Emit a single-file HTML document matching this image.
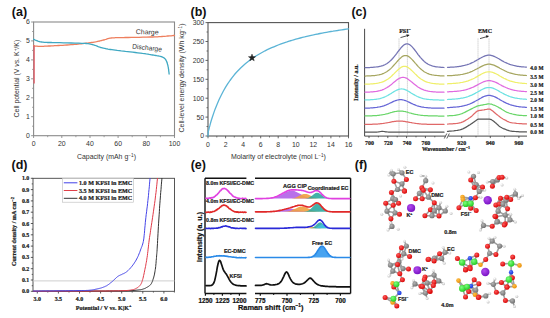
<!DOCTYPE html>
<html><head><meta charset="utf-8"><style>
html,body{margin:0;padding:0;background:#fff;width:550px;height:318px;overflow:hidden}
svg{display:block}
</style></head><body>
<svg width="550" height="318" viewBox="0 0 550 318">
<rect width="550" height="318" fill="#fff"/>
<text x="19.5" y="15.7" font-size="12.5" text-anchor="middle" font-weight="bold" font-family="Liberation Sans" fill="#111" >(a)</text>
<rect x="33.6" y="22.0" width="140.9" height="113.7" fill="none" stroke="#8a8a8a" stroke-width="1.1"/>
<line x1="31.1" y1="135.7" x2="33.6" y2="135.7" stroke="#8a8a8a" stroke-width="0.9" />
<text x="29.8" y="138.1" font-size="6.9" text-anchor="end" font-weight="normal" font-family="Liberation Sans" fill="#333" >0</text>
<line x1="32.1" y1="126.2" x2="33.6" y2="126.2" stroke="#8a8a8a" stroke-width="0.8" />
<line x1="31.1" y1="116.7" x2="33.6" y2="116.7" stroke="#8a8a8a" stroke-width="0.9" />
<text x="29.8" y="119.14999999999999" font-size="6.9" text-anchor="end" font-weight="normal" font-family="Liberation Sans" fill="#333" >1</text>
<line x1="32.1" y1="107.3" x2="33.6" y2="107.3" stroke="#8a8a8a" stroke-width="0.8" />
<line x1="31.1" y1="97.8" x2="33.6" y2="97.8" stroke="#8a8a8a" stroke-width="0.9" />
<text x="29.8" y="100.19999999999999" font-size="6.9" text-anchor="end" font-weight="normal" font-family="Liberation Sans" fill="#333" >2</text>
<line x1="32.1" y1="88.3" x2="33.6" y2="88.3" stroke="#8a8a8a" stroke-width="0.8" />
<line x1="31.1" y1="78.8" x2="33.6" y2="78.8" stroke="#8a8a8a" stroke-width="0.9" />
<text x="29.8" y="81.25" font-size="6.9" text-anchor="end" font-weight="normal" font-family="Liberation Sans" fill="#333" >3</text>
<line x1="32.1" y1="69.4" x2="33.6" y2="69.4" stroke="#8a8a8a" stroke-width="0.8" />
<line x1="31.1" y1="59.9" x2="33.6" y2="59.9" stroke="#8a8a8a" stroke-width="0.9" />
<text x="29.8" y="62.29999999999999" font-size="6.9" text-anchor="end" font-weight="normal" font-family="Liberation Sans" fill="#333" >4</text>
<line x1="32.1" y1="50.4" x2="33.6" y2="50.4" stroke="#8a8a8a" stroke-width="0.8" />
<line x1="31.1" y1="40.9" x2="33.6" y2="40.9" stroke="#8a8a8a" stroke-width="0.9" />
<text x="29.8" y="43.34999999999999" font-size="6.9" text-anchor="end" font-weight="normal" font-family="Liberation Sans" fill="#333" >5</text>
<line x1="32.1" y1="31.5" x2="33.6" y2="31.5" stroke="#8a8a8a" stroke-width="0.8" />
<line x1="31.1" y1="22.0" x2="33.6" y2="22.0" stroke="#8a8a8a" stroke-width="0.9" />
<text x="29.8" y="24.4" font-size="6.9" text-anchor="end" font-weight="normal" font-family="Liberation Sans" fill="#333" >6</text>
<line x1="33.6" y1="135.7" x2="33.6" y2="138.0" stroke="#8a8a8a" stroke-width="0.9" />
<text x="33.6" y="146.3" font-size="6.9" text-anchor="middle" font-weight="normal" font-family="Liberation Sans" fill="#333" >0</text>
<line x1="47.7" y1="135.7" x2="47.7" y2="137.2" stroke="#8a8a8a" stroke-width="0.8" />
<line x1="61.8" y1="135.7" x2="61.8" y2="138.0" stroke="#8a8a8a" stroke-width="0.9" />
<text x="61.78" y="146.3" font-size="6.9" text-anchor="middle" font-weight="normal" font-family="Liberation Sans" fill="#333" >20</text>
<line x1="75.9" y1="135.7" x2="75.9" y2="137.2" stroke="#8a8a8a" stroke-width="0.8" />
<line x1="90.0" y1="135.7" x2="90.0" y2="138.0" stroke="#8a8a8a" stroke-width="0.9" />
<text x="89.96000000000001" y="146.3" font-size="6.9" text-anchor="middle" font-weight="normal" font-family="Liberation Sans" fill="#333" >40</text>
<line x1="104.1" y1="135.7" x2="104.1" y2="137.2" stroke="#8a8a8a" stroke-width="0.8" />
<line x1="118.1" y1="135.7" x2="118.1" y2="138.0" stroke="#8a8a8a" stroke-width="0.9" />
<text x="118.14000000000001" y="146.3" font-size="6.9" text-anchor="middle" font-weight="normal" font-family="Liberation Sans" fill="#333" >60</text>
<line x1="132.2" y1="135.7" x2="132.2" y2="137.2" stroke="#8a8a8a" stroke-width="0.8" />
<line x1="146.3" y1="135.7" x2="146.3" y2="138.0" stroke="#8a8a8a" stroke-width="0.9" />
<text x="146.32" y="146.3" font-size="6.9" text-anchor="middle" font-weight="normal" font-family="Liberation Sans" fill="#333" >80</text>
<line x1="160.4" y1="135.7" x2="160.4" y2="137.2" stroke="#8a8a8a" stroke-width="0.8" />
<line x1="174.5" y1="135.7" x2="174.5" y2="138.0" stroke="#8a8a8a" stroke-width="0.9" />
<text x="174.5" y="146.3" font-size="6.9" text-anchor="middle" font-weight="normal" font-family="Liberation Sans" fill="#333" >100</text>
<text x="106.5" y="158.9" font-size="6.6" text-anchor="middle" font-weight="normal" font-family="Liberation Sans" fill="#333" textLength="59" lengthAdjust="spacingAndGlyphs" >Capacity (mAh g<tspan dy="-2.4" font-size="4.5">−1</tspan><tspan dy="2.4">)</tspan></text>
<text x="0" y="0" font-size="6.7" text-anchor="middle" font-weight="normal" font-family="Liberation Sans" fill="#333" textLength="77.6" lengthAdjust="spacingAndGlyphs" transform="translate(19.3,78.6) rotate(-90)">Cell potential (V <tspan font-style="italic">vs.</tspan> K<tspan dy="-2.4" font-size="4.5">+</tspan><tspan dy="2.4">/K)</tspan></text>
<path d="M33.6,45.5 33.7,45.5 33.8,45.6 34.0,45.7 34.1,45.8 34.3,45.9 34.5,45.9 34.8,46.0 35.0,46.1 35.3,46.1 35.5,46.1 35.8,46.2 36.1,46.2 36.5,46.2 36.9,46.2 37.3,46.2 37.8,46.3 38.4,46.3 38.9,46.3 39.5,46.3 40.2,46.3 40.9,46.3 41.7,46.3 42.6,46.3 43.6,46.3 44.7,46.2 45.9,46.2 47.2,46.1 48.5,46.0 50.0,46.0 51.5,45.9 53.1,45.8 54.7,45.7 56.5,45.6 58.5,45.5 60.6,45.4 62.7,45.3 64.8,45.1 67.0,45.0 69.0,44.9 70.9,44.7 72.8,44.6 74.6,44.4 76.3,44.3 78.0,44.1 79.7,43.9 81.3,43.8 82.9,43.6 84.5,43.4 86.0,43.2 87.5,43.1 88.9,42.9 90.3,42.7 91.7,42.5 93.0,42.3 94.2,42.1 95.5,41.9 96.6,41.7 97.8,41.4 98.8,41.2 99.9,41.0 100.9,40.7 101.8,40.5 102.8,40.2 103.6,40.0 104.4,39.8 105.2,39.5 105.9,39.3 106.5,39.1 107.1,38.8 107.8,38.6 108.4,38.5 109.1,38.3 109.8,38.2 110.5,38.1 111.2,38.0 111.9,37.9 112.7,37.9 113.5,37.8 114.4,37.8 115.3,37.7 116.3,37.7 117.2,37.7 118.1,37.6 119.1,37.6 120.2,37.6 121.6,37.6 123.4,37.6 125.5,37.5 128.2,37.5 131.5,37.4 135.1,37.4 139.0,37.3 142.9,37.2 146.6,37.1 149.9,37.0 152.7,37.0 154.8,36.9 156.5,36.8 157.8,36.8 158.9,36.7 159.9,36.6 160.9,36.6 162.0,36.5 163.2,36.4 164.7,36.3 166.3,36.2 167.9,36.0 169.5,35.9 171.1,35.8 172.5,35.6 173.6,35.5 174.5,35.5" stroke="#EE7F5E" stroke-width="1.3" fill="none" stroke-linejoin="round" stroke-linecap="round" />
<line x1="34.1" y1="83.6" x2="34.1" y2="45.5" stroke="#E2606A" stroke-width="1.4" />
<path d="M33.6,39.2 33.8,39.3 34.1,39.5 34.4,39.6 34.7,39.8 35.1,40.0 35.5,40.2 36.0,40.4 36.4,40.6 36.9,40.7 37.4,40.9 37.9,41.1 38.4,41.3 39.0,41.5 39.6,41.6 40.2,41.8 40.9,41.9 41.6,42.0 42.4,42.1 43.2,42.2 44.0,42.3 44.8,42.3 45.7,42.4 46.7,42.4 47.7,42.5 48.6,42.5 49.5,42.5 50.3,42.5 51.2,42.5 52.3,42.6 53.6,42.6 55.2,42.6 57.3,42.7 60.0,42.7 63.3,42.8 67.1,42.9 71.1,43.0 75.0,43.1 78.7,43.2 81.9,43.3 84.5,43.4 86.3,43.5 87.5,43.6 88.4,43.7 89.0,43.8 89.4,43.8 89.7,43.9 90.1,44.0 90.7,44.2 91.3,44.3 92.0,44.5 92.6,44.6 93.2,44.8 93.8,44.9 94.3,45.1 94.9,45.3 95.5,45.5 96.0,45.7 96.6,45.9 97.1,46.1 97.7,46.4 98.2,46.6 98.8,46.8 99.3,47.0 99.8,47.2 100.3,47.4 100.7,47.5 101.2,47.6 101.6,47.7 102.0,47.8 102.5,47.9 103.0,48.0 103.6,48.2 104.3,48.3 104.9,48.4 105.6,48.6 106.3,48.8 107.1,48.9 108.0,49.1 109.1,49.3 110.4,49.5 111.9,49.7 113.5,49.9 115.3,50.1 117.2,50.4 119.2,50.6 121.2,50.9 123.3,51.1 125.5,51.4 127.7,51.6 130.1,51.9 132.7,52.2 135.3,52.5 137.8,52.8 140.3,53.1 142.5,53.4 144.5,53.6 146.2,53.9 147.8,54.1 149.2,54.4 150.4,54.6 151.6,54.8 152.7,55.0 153.8,55.2 154.8,55.4 155.8,55.5 156.7,55.7 157.5,55.8 158.3,55.9 159.0,56.1 159.6,56.2 160.3,56.3 160.8,56.5 161.4,56.6 161.8,56.8 162.2,57.0 162.6,57.1 162.9,57.3 163.2,57.5 163.5,57.6 163.8,57.8 164.1,58.0 164.3,58.2 164.5,58.3 164.7,58.5 164.9,58.7 165.1,58.9 165.3,59.1 165.5,59.3 165.7,59.6 165.9,59.9 166.0,60.3 166.2,60.6 166.4,61.0 166.6,61.4 166.7,61.8 166.9,62.2 167.0,62.6 167.2,63.0 167.3,63.4 167.4,63.8 167.5,64.3 167.7,64.7 167.8,65.1 167.9,65.6 168.0,66.0 168.1,66.5 168.2,66.9 168.3,67.4 168.3,67.9 168.4,68.4 168.5,68.9 168.6,69.4 168.7,70.0 168.7,70.6 168.8,71.3 168.9,72.0 169.0,72.6 169.0,73.2 169.1,73.7 169.1,74.1" stroke="#3FA8C2" stroke-width="1.3" fill="none" stroke-linejoin="round" stroke-linecap="round" />
<text x="147.2" y="34.4" font-size="6.9" text-anchor="middle" font-weight="normal" font-family="Liberation Sans" fill="#333" textLength="22.7" lengthAdjust="spacingAndGlyphs" transform="rotate(1.5 147 33)">Charge</text>
<text x="147" y="50.0" font-size="6.8" text-anchor="middle" font-weight="normal" font-family="Liberation Sans" fill="#333" textLength="30" lengthAdjust="spacingAndGlyphs" transform="rotate(6 147 48.3)">Discharge</text>
<text x="198.5" y="15.7" font-size="12.5" text-anchor="middle" font-weight="bold" font-family="Liberation Sans" fill="#111" >(b)</text>
<rect x="208.0" y="22.6" width="140.5" height="113.4" fill="none" stroke="#555" stroke-width="1.1"/>
<line x1="205.5" y1="136.0" x2="208.0" y2="136.0" stroke="#555" stroke-width="0.9" />
<text x="204.2" y="138.4" font-size="6.9" text-anchor="end" font-weight="normal" font-family="Liberation Sans" fill="#333" >0</text>
<line x1="206.5" y1="126.5" x2="208.0" y2="126.5" stroke="#555" stroke-width="0.8" />
<line x1="205.5" y1="117.1" x2="208.0" y2="117.1" stroke="#555" stroke-width="0.9" />
<text x="204.2" y="119.5" font-size="6.9" text-anchor="end" font-weight="normal" font-family="Liberation Sans" fill="#333" >50</text>
<line x1="206.5" y1="107.7" x2="208.0" y2="107.7" stroke="#555" stroke-width="0.8" />
<line x1="205.5" y1="98.2" x2="208.0" y2="98.2" stroke="#555" stroke-width="0.9" />
<text x="204.2" y="100.60000000000001" font-size="6.9" text-anchor="end" font-weight="normal" font-family="Liberation Sans" fill="#333" >100</text>
<line x1="206.5" y1="88.8" x2="208.0" y2="88.8" stroke="#555" stroke-width="0.8" />
<line x1="205.5" y1="79.3" x2="208.0" y2="79.3" stroke="#555" stroke-width="0.9" />
<text x="204.2" y="81.7" font-size="6.9" text-anchor="end" font-weight="normal" font-family="Liberation Sans" fill="#333" >150</text>
<line x1="206.5" y1="69.8" x2="208.0" y2="69.8" stroke="#555" stroke-width="0.8" />
<line x1="205.5" y1="60.4" x2="208.0" y2="60.4" stroke="#555" stroke-width="0.9" />
<text x="204.2" y="62.800000000000004" font-size="6.9" text-anchor="end" font-weight="normal" font-family="Liberation Sans" fill="#333" >200</text>
<line x1="206.5" y1="51.0" x2="208.0" y2="51.0" stroke="#555" stroke-width="0.8" />
<line x1="205.5" y1="41.5" x2="208.0" y2="41.5" stroke="#555" stroke-width="0.9" />
<text x="204.2" y="43.9" font-size="6.9" text-anchor="end" font-weight="normal" font-family="Liberation Sans" fill="#333" >250</text>
<line x1="206.5" y1="32.0" x2="208.0" y2="32.0" stroke="#555" stroke-width="0.8" />
<line x1="205.5" y1="22.6" x2="208.0" y2="22.6" stroke="#555" stroke-width="0.9" />
<text x="204.2" y="24.999999999999993" font-size="6.9" text-anchor="end" font-weight="normal" font-family="Liberation Sans" fill="#333" >300</text>
<line x1="208.0" y1="136.0" x2="208.0" y2="138.3" stroke="#555" stroke-width="0.9" />
<text x="208.0" y="147.4" font-size="6.9" text-anchor="middle" font-weight="normal" font-family="Liberation Sans" fill="#333" >0</text>
<line x1="216.8" y1="136.0" x2="216.8" y2="137.5" stroke="#555" stroke-width="0.8" />
<line x1="225.6" y1="136.0" x2="225.6" y2="138.3" stroke="#555" stroke-width="0.9" />
<text x="225.5625" y="147.4" font-size="6.9" text-anchor="middle" font-weight="normal" font-family="Liberation Sans" fill="#333" >2</text>
<line x1="234.3" y1="136.0" x2="234.3" y2="137.5" stroke="#555" stroke-width="0.8" />
<line x1="243.1" y1="136.0" x2="243.1" y2="138.3" stroke="#555" stroke-width="0.9" />
<text x="243.125" y="147.4" font-size="6.9" text-anchor="middle" font-weight="normal" font-family="Liberation Sans" fill="#333" >4</text>
<line x1="251.9" y1="136.0" x2="251.9" y2="137.5" stroke="#555" stroke-width="0.8" />
<line x1="260.7" y1="136.0" x2="260.7" y2="138.3" stroke="#555" stroke-width="0.9" />
<text x="260.6875" y="147.4" font-size="6.9" text-anchor="middle" font-weight="normal" font-family="Liberation Sans" fill="#333" >6</text>
<line x1="269.5" y1="136.0" x2="269.5" y2="137.5" stroke="#555" stroke-width="0.8" />
<line x1="278.2" y1="136.0" x2="278.2" y2="138.3" stroke="#555" stroke-width="0.9" />
<text x="278.25" y="147.4" font-size="6.9" text-anchor="middle" font-weight="normal" font-family="Liberation Sans" fill="#333" >8</text>
<line x1="287.0" y1="136.0" x2="287.0" y2="137.5" stroke="#555" stroke-width="0.8" />
<line x1="295.8" y1="136.0" x2="295.8" y2="138.3" stroke="#555" stroke-width="0.9" />
<text x="295.8125" y="147.4" font-size="6.9" text-anchor="middle" font-weight="normal" font-family="Liberation Sans" fill="#333" >10</text>
<line x1="304.6" y1="136.0" x2="304.6" y2="137.5" stroke="#555" stroke-width="0.8" />
<line x1="313.4" y1="136.0" x2="313.4" y2="138.3" stroke="#555" stroke-width="0.9" />
<text x="313.375" y="147.4" font-size="6.9" text-anchor="middle" font-weight="normal" font-family="Liberation Sans" fill="#333" >12</text>
<line x1="322.2" y1="136.0" x2="322.2" y2="137.5" stroke="#555" stroke-width="0.8" />
<line x1="330.9" y1="136.0" x2="330.9" y2="138.3" stroke="#555" stroke-width="0.9" />
<text x="330.9375" y="147.4" font-size="6.9" text-anchor="middle" font-weight="normal" font-family="Liberation Sans" fill="#333" >14</text>
<line x1="339.7" y1="136.0" x2="339.7" y2="137.5" stroke="#555" stroke-width="0.8" />
<line x1="348.5" y1="136.0" x2="348.5" y2="138.3" stroke="#555" stroke-width="0.9" />
<text x="348.5" y="147.4" font-size="6.9" text-anchor="middle" font-weight="normal" font-family="Liberation Sans" fill="#333" >16</text>
<text x="278.4" y="159.3" font-size="6.8" text-anchor="middle" font-weight="normal" font-family="Liberation Sans" fill="#333" textLength="95" lengthAdjust="spacingAndGlyphs" >Molarity of electrolyte (mol L<tspan dy="-2.4" font-size="4.5">−1</tspan><tspan dy="2.4">)</tspan></text>
<text x="0" y="0" font-size="6.8" text-anchor="middle" font-weight="normal" font-family="Liberation Sans" fill="#333" textLength="109" lengthAdjust="spacingAndGlyphs" transform="translate(184.0,78) rotate(-90)">Cell-level energy density (Wh kg<tspan dy="-2.4" font-size="4.5">−1</tspan><tspan dy="2.4">)</tspan></text>
<path d="M208.0,136.0 208.2,132.7 208.4,131.2 208.9,129.3 209.3,127.5 209.8,125.9 210.6,122.8 211.5,119.8 212.4,117.0 213.7,113.1 215.0,109.4 216.8,104.9 219.0,99.8 221.2,95.2 223.4,91.0 225.6,87.2 227.8,83.7 230.0,80.5 232.1,77.6 234.3,74.8 236.5,72.3 238.7,70.0 240.9,67.8 243.1,65.7 245.3,63.8 247.5,62.0 249.7,60.3 251.9,58.7 254.1,57.2 256.3,55.8 258.5,54.5 260.7,53.2 262.9,52.0 265.1,50.8 267.3,49.7 269.5,48.7 271.7,47.7 273.9,46.8 276.1,45.9 278.2,45.0 280.4,44.2 282.6,43.4 284.8,42.6 287.0,41.9 289.2,41.1 291.4,40.5 293.6,39.8 295.8,39.2 298.0,38.6 300.2,38.0 302.4,37.4 304.6,36.9 306.8,36.3 309.0,35.8 311.2,35.3 313.4,34.9 315.6,34.4 317.8,34.0 320.0,33.5 322.2,33.1 324.4,32.7 326.5,32.3 328.7,31.9 330.9,31.5 333.1,31.2 335.3,30.8 337.5,30.5 339.7,30.1 341.9,29.8 344.1,29.5 346.3,29.2 348.5,28.9" stroke="#5BB4D6" stroke-width="1.3" fill="none" stroke-linejoin="round" stroke-linecap="round" />
<path d="M252.00,54.00 252.94,56.51 255.61,56.63 253.52,58.29 254.23,60.87 252.00,59.40 249.77,60.87 250.48,58.29 248.39,56.63 251.06,56.51Z" fill="#222" stroke="#222" stroke-width="0.4"/>
<text x="359.1" y="15.7" font-size="12.5" text-anchor="middle" font-weight="bold" font-family="Liberation Sans" fill="#111" >(c)</text>
<line x1="364.6" y1="28.8" x2="364.6" y2="136.1" stroke="#333" stroke-width="0.9" />
<line x1="364.6" y1="136.1" x2="445.5" y2="136.1" stroke="#333" stroke-width="0.9" />
<line x1="448.5" y1="136.1" x2="527.0" y2="136.1" stroke="#333" stroke-width="0.9" />
<line x1="444.3" y1="138.5" x2="446.8" y2="133.5" stroke="#333" stroke-width="0.8" />
<line x1="446.8" y1="138.5" x2="449.3" y2="133.5" stroke="#333" stroke-width="0.8" />
<line x1="369.0" y1="136.1" x2="369.0" y2="138.1" stroke="#333" stroke-width="0.8" />
<text x="369.5" y="145.3" font-size="5.9" text-anchor="middle" font-weight="bold" font-family="Liberation Serif" fill="#222" stroke="#222" stroke-width="0.22" >700</text>
<line x1="387.8" y1="136.1" x2="387.8" y2="138.1" stroke="#333" stroke-width="0.8" />
<text x="388.3" y="145.3" font-size="5.9" text-anchor="middle" font-weight="bold" font-family="Liberation Serif" fill="#222" stroke="#222" stroke-width="0.22" >720</text>
<line x1="406.6" y1="136.1" x2="406.6" y2="138.1" stroke="#333" stroke-width="0.8" />
<text x="407.1" y="145.3" font-size="5.9" text-anchor="middle" font-weight="bold" font-family="Liberation Serif" fill="#222" stroke="#222" stroke-width="0.22" >740</text>
<line x1="425.4" y1="136.1" x2="425.4" y2="138.1" stroke="#333" stroke-width="0.8" />
<text x="425.9" y="145.3" font-size="5.9" text-anchor="middle" font-weight="bold" font-family="Liberation Serif" fill="#222" stroke="#222" stroke-width="0.22" >760</text>
<line x1="378.4" y1="136.1" x2="378.4" y2="137.4" stroke="#333" stroke-width="0.7" />
<line x1="397.2" y1="136.1" x2="397.2" y2="137.4" stroke="#333" stroke-width="0.7" />
<line x1="416.0" y1="136.1" x2="416.0" y2="137.4" stroke="#333" stroke-width="0.7" />
<line x1="434.8" y1="136.1" x2="434.8" y2="137.4" stroke="#333" stroke-width="0.7" />
<line x1="461.7" y1="136.1" x2="461.7" y2="138.1" stroke="#333" stroke-width="0.8" />
<text x="461.7" y="145.3" font-size="5.9" text-anchor="middle" font-weight="bold" font-family="Liberation Serif" fill="#222" stroke="#222" stroke-width="0.22" >920</text>
<line x1="490.3" y1="136.1" x2="490.3" y2="138.1" stroke="#333" stroke-width="0.8" />
<text x="490.3" y="145.3" font-size="5.9" text-anchor="middle" font-weight="bold" font-family="Liberation Serif" fill="#222" stroke="#222" stroke-width="0.22" >940</text>
<line x1="518.9" y1="136.1" x2="518.9" y2="138.1" stroke="#333" stroke-width="0.8" />
<text x="518.9" y="145.3" font-size="5.9" text-anchor="middle" font-weight="bold" font-family="Liberation Serif" fill="#222" stroke="#222" stroke-width="0.22" >960</text>
<line x1="476.0" y1="136.1" x2="476.0" y2="137.4" stroke="#333" stroke-width="0.7" />
<line x1="504.6" y1="136.1" x2="504.6" y2="137.4" stroke="#333" stroke-width="0.7" />
<text x="445.9" y="151.4" font-size="5.7" text-anchor="middle" font-weight="bold" font-family="Liberation Serif" fill="#222" textLength="48" lengthAdjust="spacingAndGlyphs" stroke="#222" stroke-width="0.22" >Wavenumber / cm<tspan dy="-2.2" font-size="4">−1</tspan><tspan dy="2.2"></tspan></text>
<text x="0" y="0" font-size="6.2" text-anchor="middle" font-weight="bold" font-family="Liberation Serif" fill="#222" textLength="36.4" lengthAdjust="spacingAndGlyphs" stroke="#222" stroke-width="0.22" transform="translate(358.4,82.5) rotate(-90)">Intensity / a.u.</text>
<line x1="399.0" y1="38.5" x2="399.0" y2="136.1" stroke="#b4b4b4" stroke-width="0.75" stroke-dasharray="1.2,0.8"/>
<line x1="407.4" y1="38.5" x2="407.4" y2="136.1" stroke="#b4b4b4" stroke-width="0.75" stroke-dasharray="1.2,0.8"/>
<line x1="478.0" y1="38.5" x2="478.0" y2="136.1" stroke="#b4b4b4" stroke-width="0.75" stroke-dasharray="1.2,0.8"/>
<line x1="489.0" y1="38.5" x2="489.0" y2="136.1" stroke="#b4b4b4" stroke-width="0.75" stroke-dasharray="1.2,0.8"/>
<text x="405" y="33" font-size="6.0" text-anchor="middle" font-weight="bold" font-family="Liberation Serif" fill="#222" stroke="#222" stroke-width="0.22" >FSI<tspan dy="-2" font-size="4">−</tspan><tspan dy="2"></tspan></text>
<text x="485" y="33" font-size="6.0" text-anchor="middle" font-weight="bold" font-family="Liberation Serif" fill="#222" stroke="#222" stroke-width="0.22" >EMC</text>
<path d="M400.5,37.6 L408.5,35.3" stroke="#222" stroke-width="0.8"/><path d="M409.6,35 L406.3,34.3 L407.2,37.0Z" fill="#222"/>
<path d="M480,38.6 L488,36.3" stroke="#222" stroke-width="0.8"/><path d="M489.1,36 L485.8,35.3 L486.7,38.0Z" fill="#222"/>
<path d="M365.0,67.6 366.0,67.6 367.0,67.6 368.0,67.6 368.9,67.5 369.9,67.5 370.9,67.4 371.9,67.4 372.9,67.3 373.9,67.2 374.9,67.1 375.9,67.0 376.9,66.9 377.8,66.8 378.8,66.6 379.8,66.4 380.8,66.2 381.8,65.9 382.8,65.6 383.8,65.2 384.8,64.7 385.7,64.2 386.7,63.7 387.7,63.0 388.7,62.3 389.7,61.4 390.7,60.5 391.7,59.5 392.6,58.5 393.6,57.3 394.6,56.1 395.6,54.9 396.6,53.6 397.6,52.2 398.6,50.9 399.6,49.6 400.6,48.4 401.5,47.2 402.5,46.2 403.5,45.3 404.5,44.6 405.5,44.1 406.5,43.8 407.5,43.8 408.4,44.1 409.4,44.5 410.4,45.2 411.4,46.1 412.4,47.1 413.4,48.3 414.4,49.5 415.4,50.8 416.4,52.2 417.3,53.5 418.3,54.8 419.3,56.0 420.3,57.3 421.3,58.4 422.3,59.5 423.3,60.5 424.2,61.4 425.2,62.2 426.2,63.0 427.2,63.6 428.2,64.2 429.2,64.7 430.2,65.2 431.2,65.5 432.1,65.9 433.1,66.2 434.1,66.4 435.1,66.6 436.1,66.8 437.1,66.9 438.1,67.0 439.1,67.1 440.1,67.2 441.0,67.3 442.0,67.4 443.0,67.4 444.0,67.5" stroke="#7474B4" stroke-width="1.25" fill="none" stroke-linejoin="round" stroke-linecap="round" />
<path d="M447.5,67.3 448.5,67.3 449.5,67.3 450.5,67.2 451.4,67.2 452.4,67.1 453.4,67.0 454.4,67.0 455.4,66.9 456.4,66.8 457.4,66.7 458.4,66.6 459.4,66.4 460.3,66.3 461.3,66.1 462.3,65.9 463.3,65.7 464.3,65.5 465.3,65.2 466.3,65.0 467.2,64.7 468.2,64.3 469.2,64.0 470.2,63.6 471.2,63.1 472.2,62.7 473.2,62.2 474.2,61.7 475.1,61.1 476.1,60.6 477.1,60.0 478.1,59.5 479.1,58.9 480.1,58.3 481.1,57.8 482.1,57.2 483.1,56.7 484.0,56.3 485.0,55.9 486.0,55.6 487.0,55.4 488.0,55.2 489.0,55.2 490.0,55.2 490.9,55.4 491.9,55.6 492.9,55.9 493.9,56.3 494.9,56.7 495.9,57.2 496.9,57.7 497.9,58.3 498.9,58.8 499.8,59.4 500.8,60.0 501.8,60.6 502.8,61.1 503.8,61.7 504.8,62.2 505.8,62.7 506.8,63.1 507.7,63.5 508.7,63.9 509.7,64.3 510.7,64.6 511.7,65.0 512.7,65.2 513.7,65.5 514.6,65.7 515.6,65.9 516.6,66.1 517.6,66.3 518.6,66.4 519.6,66.6 520.6,66.7 521.6,66.8 522.5,66.9 523.5,66.9 524.5,67.0 525.5,67.1 526.5,67.1" stroke="#7474B4" stroke-width="1.25" fill="none" stroke-linejoin="round" stroke-linecap="round" />
<text x="530.3" y="70.3" font-size="6.0" text-anchor="start" font-weight="bold" font-family="Liberation Serif" fill="#222" textLength="13.2" lengthAdjust="spacingAndGlyphs" stroke="#222" stroke-width="0.22" >4.0 M</text>
<path d="M365.0,76.0 366.0,76.0 367.0,75.9 368.0,75.9 368.9,75.9 369.9,75.8 370.9,75.8 371.9,75.7 372.9,75.6 373.9,75.5 374.9,75.5 375.9,75.3 376.9,75.2 377.8,75.0 378.8,74.9 379.8,74.6 380.8,74.4 381.8,74.1 382.8,73.7 383.8,73.3 384.8,72.8 385.7,72.3 386.7,71.7 387.7,71.0 388.7,70.3 389.7,69.5 390.7,68.6 391.7,67.6 392.6,66.6 393.6,65.5 394.6,64.4 395.6,63.3 396.6,62.2 397.6,61.0 398.6,59.9 399.6,58.9 400.6,58.0 401.5,57.1 402.5,56.4 403.5,55.9 404.5,55.6 405.5,55.5 406.5,55.6 407.5,55.9 408.4,56.4 409.4,57.1 410.4,57.9 411.4,58.9 412.4,59.9 413.4,61.0 414.4,62.1 415.4,63.3 416.4,64.4 417.3,65.5 418.3,66.6 419.3,67.6 420.3,68.6 421.3,69.4 422.3,70.3 423.3,71.0 424.2,71.7 425.2,72.3 426.2,72.8 427.2,73.3 428.2,73.7 429.2,74.1 430.2,74.4 431.2,74.6 432.1,74.9 433.1,75.0 434.1,75.2 435.1,75.3 436.1,75.4 437.1,75.5 438.1,75.6 439.1,75.7 440.1,75.8 441.0,75.8 442.0,75.9 443.0,75.9 444.0,75.9" stroke="#A6A660" stroke-width="1.25" fill="none" stroke-linejoin="round" stroke-linecap="round" />
<path d="M447.5,75.7 448.5,75.6 449.5,75.6 450.5,75.6 451.4,75.5 452.4,75.5 453.4,75.4 454.4,75.3 455.4,75.2 456.4,75.2 457.4,75.1 458.4,74.9 459.4,74.8 460.3,74.7 461.3,74.5 462.3,74.4 463.3,74.2 464.3,73.9 465.3,73.7 466.3,73.4 467.2,73.2 468.2,72.8 469.2,72.5 470.2,72.1 471.2,71.7 472.2,71.3 473.2,70.8 474.2,70.3 475.1,69.8 476.1,69.3 477.1,68.8 478.1,68.2 479.1,67.7 480.1,67.1 481.1,66.6 482.1,66.1 483.1,65.7 484.0,65.2 485.0,64.9 486.0,64.6 487.0,64.4 488.0,64.2 489.0,64.2 490.0,64.2 490.9,64.4 491.9,64.6 492.9,64.9 493.9,65.2 494.9,65.6 495.9,66.1 496.9,66.6 497.9,67.1 498.9,67.6 499.8,68.2 500.8,68.7 501.8,69.3 502.8,69.8 503.8,70.3 504.8,70.8 505.8,71.2 506.8,71.7 507.7,72.1 508.7,72.5 509.7,72.8 510.7,73.1 511.7,73.4 512.7,73.7 513.7,73.9 514.6,74.2 515.6,74.3 516.6,74.5 517.6,74.7 518.6,74.8 519.6,74.9 520.6,75.1 521.6,75.1 522.5,75.2 523.5,75.3 524.5,75.4 525.5,75.4 526.5,75.5" stroke="#A6A660" stroke-width="1.25" fill="none" stroke-linejoin="round" stroke-linecap="round" />
<text x="530.3" y="78.6" font-size="6.0" text-anchor="start" font-weight="bold" font-family="Liberation Serif" fill="#222" textLength="13.2" lengthAdjust="spacingAndGlyphs" stroke="#222" stroke-width="0.22" >3.5 M</text>
<path d="M365.0,84.1 366.0,84.1 367.0,84.1 368.0,84.0 368.9,84.0 369.9,84.0 370.9,83.9 371.9,83.8 372.9,83.8 373.9,83.7 374.9,83.6 375.9,83.5 376.9,83.3 377.8,83.2 378.8,83.0 379.8,82.7 380.8,82.5 381.8,82.2 382.8,81.8 383.8,81.4 384.8,80.9 385.7,80.4 386.7,79.8 387.7,79.2 388.7,78.5 389.7,77.7 390.7,76.9 391.7,76.0 392.6,75.0 393.6,74.1 394.6,73.1 395.6,72.1 396.6,71.1 397.6,70.2 398.6,69.3 399.6,68.4 400.6,67.7 401.5,67.1 402.5,66.7 403.5,66.4 404.5,66.3 405.5,66.4 406.5,66.7 407.5,67.1 408.4,67.7 409.4,68.4 410.4,69.3 411.4,70.2 412.4,71.1 413.4,72.1 414.4,73.1 415.4,74.1 416.4,75.0 417.3,76.0 418.3,76.9 419.3,77.7 420.3,78.5 421.3,79.2 422.3,79.8 423.3,80.4 424.2,80.9 425.2,81.4 426.2,81.8 427.2,82.2 428.2,82.5 429.2,82.7 430.2,83.0 431.2,83.2 432.1,83.3 433.1,83.5 434.1,83.6 435.1,83.7 436.1,83.8 437.1,83.8 438.1,83.9 439.1,84.0 440.1,84.0 441.0,84.0 442.0,84.1 443.0,84.1 444.0,84.1" stroke="#EFEF6A" stroke-width="1.25" fill="none" stroke-linejoin="round" stroke-linecap="round" />
<path d="M447.5,83.8 448.5,83.7 449.5,83.7 450.5,83.6 451.4,83.6 452.4,83.5 453.4,83.4 454.4,83.4 455.4,83.3 456.4,83.2 457.4,83.1 458.4,83.0 459.4,82.9 460.3,82.7 461.3,82.5 462.3,82.4 463.3,82.2 464.3,81.9 465.3,81.7 466.3,81.4 467.2,81.1 468.2,80.8 469.2,80.4 470.2,80.0 471.2,79.6 472.2,79.2 473.2,78.7 474.2,78.2 475.1,77.7 476.1,77.1 477.1,76.6 478.1,76.0 479.1,75.4 480.1,74.9 481.1,74.3 482.1,73.8 483.1,73.3 484.0,72.9 485.0,72.5 486.0,72.2 487.0,72.0 488.0,71.8 489.0,71.8 490.0,71.8 490.9,72.0 491.9,72.2 492.9,72.5 493.9,72.9 494.9,73.3 495.9,73.8 496.9,74.3 497.9,74.8 498.9,75.4 499.8,76.0 500.8,76.5 501.8,77.1 502.8,77.6 503.8,78.2 504.8,78.7 505.8,79.1 506.8,79.6 507.7,80.0 508.7,80.4 509.7,80.8 510.7,81.1 511.7,81.4 512.7,81.7 513.7,81.9 514.6,82.2 515.6,82.4 516.6,82.5 517.6,82.7 518.6,82.8 519.6,83.0 520.6,83.1 521.6,83.2 522.5,83.3 523.5,83.4 524.5,83.4 525.5,83.5 526.5,83.6" stroke="#EFEF6A" stroke-width="1.25" fill="none" stroke-linejoin="round" stroke-linecap="round" />
<text x="530.3" y="86.69999999999999" font-size="6.0" text-anchor="start" font-weight="bold" font-family="Liberation Serif" fill="#222" textLength="13.2" lengthAdjust="spacingAndGlyphs" stroke="#222" stroke-width="0.22" >3.0 M</text>
<path d="M365.0,92.2 366.0,92.1 367.0,92.1 368.0,92.1 368.9,92.0 369.9,92.0 370.9,91.9 371.9,91.9 372.9,91.8 373.9,91.7 374.9,91.6 375.9,91.5 376.9,91.3 377.8,91.1 378.8,90.9 379.8,90.7 380.8,90.4 381.8,90.1 382.8,89.7 383.8,89.3 384.8,88.8 385.7,88.3 386.7,87.8 387.7,87.1 388.7,86.5 389.7,85.7 390.7,85.0 391.7,84.2 392.6,83.4 393.6,82.5 394.6,81.7 395.6,80.9 396.6,80.1 397.6,79.4 398.6,78.8 399.6,78.2 400.6,77.8 401.5,77.5 402.5,77.3 403.5,77.3 404.5,77.5 405.5,77.8 406.5,78.2 407.5,78.8 408.4,79.4 409.4,80.2 410.4,80.9 411.4,81.8 412.4,82.6 413.4,83.4 414.4,84.2 415.4,85.0 416.4,85.8 417.3,86.5 418.3,87.2 419.3,87.8 420.3,88.4 421.3,88.9 422.3,89.3 423.3,89.7 424.2,90.1 425.2,90.4 426.2,90.7 427.2,90.9 428.2,91.2 429.2,91.3 430.2,91.5 431.2,91.6 432.1,91.7 433.1,91.8 434.1,91.9 435.1,91.9 436.1,92.0 437.1,92.0 438.1,92.1 439.1,92.1 440.1,92.1 441.0,92.2 442.0,92.2 443.0,92.2 444.0,92.2" stroke="#E06AE0" stroke-width="1.25" fill="none" stroke-linejoin="round" stroke-linecap="round" />
<path d="M447.5,91.8 448.5,91.8 449.5,91.7 450.5,91.7 451.4,91.6 452.4,91.6 453.4,91.5 454.4,91.4 455.4,91.4 456.4,91.3 457.4,91.2 458.4,91.1 459.4,91.0 460.3,90.8 461.3,90.7 462.3,90.5 463.3,90.3 464.3,90.1 465.3,89.9 466.3,89.6 467.2,89.3 468.2,89.0 469.2,88.7 470.2,88.3 471.2,87.9 472.2,87.5 473.2,87.1 474.2,86.6 475.1,86.1 476.1,85.6 477.1,85.1 478.1,84.5 479.1,84.0 480.1,83.5 481.1,83.0 482.1,82.5 483.1,82.0 484.0,81.6 485.0,81.3 486.0,81.0 487.0,80.8 488.0,80.6 489.0,80.6 490.0,80.6 490.9,80.8 491.9,81.0 492.9,81.3 493.9,81.6 494.9,82.0 495.9,82.4 496.9,82.9 497.9,83.4 498.9,84.0 499.8,84.5 500.8,85.0 501.8,85.6 502.8,86.1 503.8,86.6 504.8,87.0 505.8,87.5 506.8,87.9 507.7,88.3 508.7,88.7 509.7,89.0 510.7,89.3 511.7,89.6 512.7,89.9 513.7,90.1 514.6,90.3 515.6,90.5 516.6,90.7 517.6,90.8 518.6,91.0 519.6,91.1 520.6,91.2 521.6,91.3 522.5,91.4 523.5,91.4 524.5,91.5 525.5,91.6 526.5,91.6" stroke="#E06AE0" stroke-width="1.25" fill="none" stroke-linejoin="round" stroke-linecap="round" />
<text x="530.3" y="94.69999999999999" font-size="6.0" text-anchor="start" font-weight="bold" font-family="Liberation Serif" fill="#222" textLength="13.2" lengthAdjust="spacingAndGlyphs" stroke="#222" stroke-width="0.22" >2.5 M</text>
<path d="M365.0,99.9 366.0,99.9 367.0,99.9 368.0,99.9 368.9,99.8 369.9,99.8 370.9,99.7 371.9,99.7 372.9,99.6 373.9,99.5 374.9,99.4 375.9,99.3 376.9,99.1 377.8,99.0 378.8,98.8 379.8,98.6 380.8,98.3 381.8,98.0 382.8,97.7 383.8,97.3 384.8,96.9 385.7,96.5 386.7,96.0 387.7,95.5 388.7,94.9 389.7,94.3 390.7,93.7 391.7,93.1 392.6,92.5 393.6,91.9 394.6,91.3 395.6,90.7 396.6,90.2 397.6,89.8 398.6,89.4 399.6,89.1 400.6,89.0 401.5,88.9 402.5,89.0 403.5,89.1 404.5,89.4 405.5,89.8 406.5,90.2 407.5,90.8 408.4,91.3 409.4,91.9 410.4,92.5 411.4,93.2 412.4,93.8 413.4,94.4 414.4,94.9 415.4,95.5 416.4,96.0 417.3,96.5 418.3,96.9 419.3,97.3 420.3,97.7 421.3,98.0 422.3,98.3 423.3,98.6 424.2,98.8 425.2,99.0 426.2,99.1 427.2,99.3 428.2,99.4 429.2,99.5 430.2,99.6 431.2,99.7 432.1,99.7 433.1,99.8 434.1,99.8 435.1,99.9 436.1,99.9 437.1,99.9 438.1,99.9 439.1,100.0 440.1,100.0 441.0,100.0 442.0,100.0 443.0,100.0 444.0,100.0" stroke="#6CE2E2" stroke-width="1.25" fill="none" stroke-linejoin="round" stroke-linecap="round" />
<path d="M447.5,99.5 448.5,99.4 449.5,99.4 450.5,99.3 451.4,99.3 452.4,99.2 453.4,99.1 454.4,99.1 455.4,99.0 456.4,98.9 457.4,98.8 458.4,98.7 459.4,98.6 460.3,98.4 461.3,98.2 462.3,98.1 463.3,97.9 464.3,97.6 465.3,97.4 466.3,97.1 467.2,96.8 468.2,96.5 469.2,96.1 470.2,95.7 471.2,95.3 472.2,94.9 473.2,94.4 474.2,93.9 475.1,93.4 476.1,92.8 477.1,92.3 478.1,91.7 479.1,91.1 480.1,90.6 481.1,90.0 482.1,89.5 483.1,89.0 484.0,88.6 485.0,88.2 486.0,87.9 487.0,87.7 488.0,87.5 489.0,87.5 490.0,87.5 490.9,87.7 491.9,87.9 492.9,88.2 493.9,88.6 494.9,89.0 495.9,89.5 496.9,90.0 497.9,90.5 498.9,91.1 499.8,91.7 500.8,92.2 501.8,92.8 502.8,93.3 503.8,93.9 504.8,94.4 505.8,94.8 506.8,95.3 507.7,95.7 508.7,96.1 509.7,96.5 510.7,96.8 511.7,97.1 512.7,97.4 513.7,97.6 514.6,97.9 515.6,98.1 516.6,98.2 517.6,98.4 518.6,98.5 519.6,98.7 520.6,98.8 521.6,98.9 522.5,99.0 523.5,99.1 524.5,99.1 525.5,99.2 526.5,99.3" stroke="#6CE2E2" stroke-width="1.25" fill="none" stroke-linejoin="round" stroke-linecap="round" />
<text x="530.3" y="102.39999999999999" font-size="6.0" text-anchor="start" font-weight="bold" font-family="Liberation Serif" fill="#222" textLength="13.2" lengthAdjust="spacingAndGlyphs" stroke="#222" stroke-width="0.22" >2.0 M</text>
<path d="M365.0,108.1 366.0,108.1 367.0,108.1 368.0,108.0 368.9,108.0 369.9,108.0 370.9,107.9 371.9,107.9 372.9,107.8 373.9,107.7 374.9,107.6 375.9,107.5 376.9,107.4 377.8,107.2 378.8,107.0 379.8,106.9 380.8,106.6 381.8,106.4 382.8,106.1 383.8,105.8 384.8,105.4 385.7,105.1 386.7,104.7 387.7,104.2 388.7,103.8 389.7,103.3 390.7,102.8 391.7,102.4 392.6,101.9 393.6,101.4 394.6,101.0 395.6,100.6 396.6,100.3 397.6,100.0 398.6,99.8 399.6,99.6 400.6,99.6 401.5,99.6 402.5,99.8 403.5,100.0 404.5,100.3 405.5,100.6 406.5,101.0 407.5,101.5 408.4,101.9 409.4,102.4 410.4,102.9 411.4,103.4 412.4,103.8 413.4,104.3 414.4,104.7 415.4,105.1 416.4,105.5 417.3,105.8 418.3,106.1 419.3,106.4 420.3,106.6 421.3,106.9 422.3,107.1 423.3,107.2 424.2,107.4 425.2,107.5 426.2,107.6 427.2,107.7 428.2,107.8 429.2,107.9 430.2,107.9 431.2,108.0 432.1,108.0 433.1,108.0 434.1,108.1 435.1,108.1 436.1,108.1 437.1,108.1 438.1,108.1 439.1,108.2 440.1,108.2 441.0,108.2 442.0,108.2 443.0,108.2 444.0,108.2" stroke="#6666D6" stroke-width="1.25" fill="none" stroke-linejoin="round" stroke-linecap="round" />
<path d="M447.5,107.5 448.5,107.5 449.5,107.5 450.5,107.4 451.4,107.4 452.4,107.3 453.4,107.2 454.4,107.2 455.4,107.1 456.4,107.0 457.4,106.9 458.4,106.8 459.4,106.6 460.3,106.5 461.3,106.3 462.3,106.1 463.3,105.9 464.3,105.7 465.3,105.4 466.3,105.2 467.2,104.9 468.2,104.5 469.2,104.2 470.2,103.8 471.2,103.3 472.2,102.9 473.2,102.4 474.2,101.9 475.1,101.3 476.1,100.8 477.1,100.2 478.1,99.7 479.1,99.1 480.1,98.5 481.1,98.0 482.1,97.4 483.1,96.9 484.0,96.5 485.0,96.1 486.0,95.8 487.0,95.6 488.0,95.4 489.0,95.4 490.0,95.4 490.9,95.6 491.9,95.8 492.9,96.1 493.9,96.5 494.9,96.9 495.9,97.4 496.9,97.9 497.9,98.5 498.9,99.0 499.8,99.6 500.8,100.2 501.8,100.8 502.8,101.3 503.8,101.9 504.8,102.4 505.8,102.9 506.8,103.3 507.7,103.7 508.7,104.1 509.7,104.5 510.7,104.8 511.7,105.2 512.7,105.4 513.7,105.7 514.6,105.9 515.6,106.1 516.6,106.3 517.6,106.5 518.6,106.6 519.6,106.8 520.6,106.9 521.6,107.0 522.5,107.1 523.5,107.1 524.5,107.2 525.5,107.3 526.5,107.3" stroke="#6666D6" stroke-width="1.25" fill="none" stroke-linejoin="round" stroke-linecap="round" />
<text x="530.3" y="110.5" font-size="6.0" text-anchor="start" font-weight="bold" font-family="Liberation Serif" fill="#222" textLength="13.2" lengthAdjust="spacingAndGlyphs" stroke="#222" stroke-width="0.22" >1.5 M</text>
<path d="M365.0,115.9 366.0,115.9 367.0,115.9 368.0,115.9 368.9,115.9 369.9,115.8 370.9,115.8 371.9,115.8 372.9,115.7 373.9,115.7 374.9,115.6 375.9,115.5 376.9,115.5 377.8,115.4 378.8,115.3 379.8,115.1 380.8,115.0 381.8,114.8 382.8,114.7 383.8,114.5 384.8,114.3 385.7,114.0 386.7,113.8 387.7,113.6 388.7,113.3 389.7,113.0 390.7,112.7 391.7,112.5 392.6,112.2 393.6,111.9 394.6,111.7 395.6,111.5 396.6,111.3 397.6,111.2 398.6,111.1 399.6,111.0 400.6,111.0 401.5,111.1 402.5,111.2 403.5,111.3 404.5,111.5 405.5,111.7 406.5,112.0 407.5,112.2 408.4,112.5 409.4,112.8 410.4,113.0 411.4,113.3 412.4,113.6 413.4,113.8 414.4,114.1 415.4,114.3 416.4,114.5 417.3,114.7 418.3,114.9 419.3,115.0 420.3,115.2 421.3,115.3 422.3,115.4 423.3,115.5 424.2,115.6 425.2,115.6 426.2,115.7 427.2,115.7 428.2,115.8 429.2,115.8 430.2,115.8 431.2,115.9 432.1,115.9 433.1,115.9 434.1,115.9 435.1,115.9 436.1,115.9 437.1,115.9 438.1,116.0 439.1,116.0 440.1,116.0 441.0,116.0 442.0,116.0 443.0,116.0 444.0,116.0" stroke="#6AD66A" stroke-width="1.25" fill="none" stroke-linejoin="round" stroke-linecap="round" />
<path d="M447.5,115.8 448.3,115.8 449.5,115.7 450.8,115.7 452.3,115.6 453.7,115.5 455.0,115.3 456.2,115.1 457.3,114.9 458.5,114.7 459.6,114.4 460.8,114.0 462.0,113.6 463.3,113.0 464.7,112.4 466.1,111.6 467.5,110.9 468.8,110.2 470.0,109.6 471.0,109.1 472.0,108.6 472.8,108.2 473.6,107.8 474.3,107.4 475.0,107.1 475.6,106.8 476.1,106.6 476.5,106.4 476.9,106.2 477.4,106.1 478.0,105.9 478.7,105.7 479.5,105.6 480.3,105.4 481.2,105.2 482.1,105.1 483.0,104.9 484.0,104.7 485.0,104.5 486.0,104.3 487.0,104.1 488.0,103.9 489.0,103.9 489.9,104.0 490.7,104.1 491.5,104.2 492.3,104.5 493.1,104.8 494.0,105.1 495.0,105.5 496.0,106.0 497.0,106.5 498.0,107.0 499.0,107.6 500.0,108.1 500.9,108.6 501.7,109.2 502.6,109.8 503.4,110.3 504.2,110.8 505.0,111.3 505.8,111.7 506.6,112.1 507.3,112.4 508.1,112.7 509.0,113.0 510.0,113.3 511.2,113.6 512.4,114.0 513.8,114.3 515.2,114.6 516.6,114.9 518.0,115.1 519.5,115.3 521.1,115.4 522.8,115.5 524.3,115.5 525.6,115.6 526.5,115.6" stroke="#6AD66A" stroke-width="1.25" fill="none" stroke-linejoin="round" stroke-linecap="round" />
<text x="530.3" y="118.19999999999999" font-size="6.0" text-anchor="start" font-weight="bold" font-family="Liberation Serif" fill="#222" textLength="13.2" lengthAdjust="spacingAndGlyphs" stroke="#222" stroke-width="0.22" >1.0 M</text>
<path d="M365.0,124.4 366.0,124.4 367.0,124.4 368.0,124.3 368.9,124.3 369.9,124.3 370.9,124.3 371.9,124.3 372.9,124.2 373.9,124.2 374.9,124.1 375.9,124.1 376.9,124.0 377.8,124.0 378.8,123.9 379.8,123.8 380.8,123.7 381.8,123.6 382.8,123.5 383.8,123.3 384.8,123.2 385.7,123.0 386.7,122.8 387.7,122.7 388.7,122.5 389.7,122.3 390.7,122.1 391.7,121.9 392.6,121.7 393.6,121.6 394.6,121.4 395.6,121.3 396.6,121.1 397.6,121.1 398.6,121.0 399.6,121.0 400.6,121.0 401.5,121.1 402.5,121.2 403.5,121.3 404.5,121.4 405.5,121.6 406.5,121.8 407.5,121.9 408.4,122.1 409.4,122.3 410.4,122.5 411.4,122.7 412.4,122.9 413.4,123.0 414.4,123.2 415.4,123.3 416.4,123.5 417.3,123.6 418.3,123.7 419.3,123.8 420.3,123.9 421.3,124.0 422.3,124.0 423.3,124.1 424.2,124.1 425.2,124.2 426.2,124.2 427.2,124.3 428.2,124.3 429.2,124.3 430.2,124.3 431.2,124.3 432.1,124.4 433.1,124.4 434.1,124.4 435.1,124.4 436.1,124.4 437.1,124.4 438.1,124.4 439.1,124.4 440.1,124.4 441.0,124.4 442.0,124.4 443.0,124.4 444.0,124.4" stroke="#E06868" stroke-width="1.25" fill="none" stroke-linejoin="round" stroke-linecap="round" />
<path d="M447.5,124.0 448.3,124.0 449.5,123.9 450.8,123.9 452.3,123.8 453.7,123.7 455.0,123.6 456.2,123.5 457.3,123.3 458.5,123.2 459.6,122.9 460.8,122.6 462.0,122.2 463.3,121.6 464.7,120.9 466.1,120.0 467.5,119.2 468.8,118.3 470.0,117.5 471.0,116.7 472.0,115.9 472.8,115.1 473.6,114.3 474.3,113.6 475.0,113.0 475.6,112.5 476.0,112.0 476.4,111.7 476.9,111.4 477.3,111.1 478.0,110.8 478.8,110.6 479.8,110.4 480.9,110.3 482.0,110.1 483.0,110.0 484.0,109.9 484.9,109.7 485.8,109.5 486.7,109.4 487.5,109.2 488.3,109.1 489.0,109.1 489.6,109.1 490.0,109.2 490.3,109.3 490.7,109.6 491.2,109.9 492.0,110.5 493.1,111.3 494.4,112.4 495.9,113.7 497.4,114.9 498.8,116.1 500.0,117.0 501.0,117.7 501.9,118.3 502.7,118.8 503.4,119.2 504.2,119.6 505.0,120.0 505.8,120.4 506.6,120.9 507.3,121.3 508.1,121.6 509.0,122.0 510.0,122.3 511.2,122.6 512.4,122.8 513.8,123.0 515.2,123.2 516.6,123.4 518.0,123.5 519.5,123.6 521.1,123.7 522.8,123.8 524.3,123.8 525.6,123.9 526.5,123.9" stroke="#E06868" stroke-width="1.25" fill="none" stroke-linejoin="round" stroke-linecap="round" />
<text x="530.3" y="126.6" font-size="6.0" text-anchor="start" font-weight="bold" font-family="Liberation Serif" fill="#222" textLength="13.2" lengthAdjust="spacingAndGlyphs" stroke="#222" stroke-width="0.22" >0.5 M</text>
<path d="M365.0,132.2 366.0,132.2 367.0,132.2 368.0,132.2 368.9,132.2 369.9,132.2 370.9,132.2 371.9,132.2 372.9,132.2 373.9,132.2 374.9,132.2 375.9,132.1 376.9,132.1 377.8,132.0 378.8,131.8 379.8,131.7 380.8,131.5 381.8,131.4 382.8,131.4 383.8,131.5 384.8,131.6 385.7,131.8 386.7,131.9 387.7,132.0 388.7,132.1 389.7,132.2 390.7,132.2 391.7,132.2 392.6,132.2 393.6,132.2 394.6,132.2 395.6,132.2 396.6,132.2 397.6,132.2 398.6,132.2 399.6,132.2 400.6,132.2 401.5,132.2 402.5,132.2 403.5,132.2 404.5,132.2 405.5,132.2 406.5,132.2 407.5,132.2 408.4,132.2 409.4,132.2 410.4,132.2 411.4,132.2 412.4,132.2 413.4,132.2 414.4,132.2 415.4,132.2 416.4,132.2 417.3,132.2 418.3,132.2 419.3,132.2 420.3,132.2 421.3,132.2 422.3,132.2 423.3,132.2 424.2,132.2 425.2,132.2 426.2,132.2 427.2,132.2 428.2,132.2 429.2,132.2 430.2,132.2 431.2,132.2 432.1,132.2 433.1,132.2 434.1,132.2 435.1,132.2 436.1,132.2 437.1,132.2 438.1,132.2 439.1,132.2 440.1,132.2 441.0,132.2 442.0,132.2 443.0,132.2 444.0,132.2" stroke="#585858" stroke-width="1.25" fill="none" stroke-linejoin="round" stroke-linecap="round" />
<path d="M447.5,131.4 448.3,131.3 449.5,131.2 450.8,131.1 452.3,131.0 453.7,130.9 455.0,130.7 456.2,130.5 457.3,130.4 458.5,130.2 459.6,130.0 460.8,129.6 462.0,129.2 463.3,128.6 464.7,127.9 466.1,127.1 467.5,126.2 468.8,125.4 470.0,124.7 471.0,124.0 472.0,123.4 472.8,122.8 473.6,122.2 474.3,121.7 475.0,121.2 475.6,120.8 476.1,120.4 476.6,120.0 477.1,119.7 477.6,119.4 478.3,119.2 479.1,119.1 480.0,119.0 481.0,119.0 482.0,119.0 483.0,119.1 484.0,119.1 485.0,119.1 485.9,119.1 486.9,119.0 487.8,119.1 488.7,119.1 489.5,119.2 490.2,119.3 490.7,119.4 491.2,119.6 491.6,119.8 492.2,120.2 493.0,120.7 494.0,121.5 495.1,122.5 496.4,123.6 497.7,124.8 498.9,125.9 500.0,126.7 500.9,127.3 501.8,127.8 502.6,128.2 503.4,128.6 504.2,128.9 505.0,129.2 505.8,129.5 506.6,129.9 507.3,130.2 508.1,130.4 509.0,130.7 510.0,130.9 511.2,131.1 512.4,131.3 513.8,131.4 515.2,131.5 516.6,131.6 518.0,131.7 519.5,131.8 521.1,131.8 522.8,131.8 524.3,131.9 525.6,131.9 526.5,131.9" stroke="#585858" stroke-width="1.25" fill="none" stroke-linejoin="round" stroke-linecap="round" />
<text x="530.3" y="134.29999999999998" font-size="6.0" text-anchor="start" font-weight="bold" font-family="Liberation Serif" fill="#222" textLength="13.2" lengthAdjust="spacingAndGlyphs" stroke="#222" stroke-width="0.22" >0.0 M</text>
<text x="19.5" y="168.9" font-size="12.5" text-anchor="middle" font-weight="bold" font-family="Liberation Sans" fill="#111" >(d)</text>
<rect x="33.0" y="178.3" width="141.5" height="113.0" fill="none" stroke="#444" stroke-width="0.9"/>
<line x1="30.8" y1="291.3" x2="33.0" y2="291.3" stroke="#333" stroke-width="0.8" />
<text x="29.3" y="293.3" font-size="5.9" text-anchor="end" font-weight="bold" font-family="Liberation Serif" fill="#222" stroke="#222" stroke-width="0.22" >0.0</text>
<line x1="31.7" y1="285.7" x2="33.0" y2="285.7" stroke="#333" stroke-width="0.7" />
<line x1="30.8" y1="280.0" x2="33.0" y2="280.0" stroke="#333" stroke-width="0.8" />
<text x="29.3" y="282.0" font-size="5.9" text-anchor="end" font-weight="bold" font-family="Liberation Serif" fill="#222" stroke="#222" stroke-width="0.22" >0.1</text>
<line x1="31.7" y1="274.4" x2="33.0" y2="274.4" stroke="#333" stroke-width="0.7" />
<line x1="30.8" y1="268.7" x2="33.0" y2="268.7" stroke="#333" stroke-width="0.8" />
<text x="29.3" y="270.7" font-size="5.9" text-anchor="end" font-weight="bold" font-family="Liberation Serif" fill="#222" stroke="#222" stroke-width="0.22" >0.2</text>
<line x1="31.7" y1="263.1" x2="33.0" y2="263.1" stroke="#333" stroke-width="0.7" />
<line x1="30.8" y1="257.4" x2="33.0" y2="257.4" stroke="#333" stroke-width="0.8" />
<text x="29.3" y="259.40000000000003" font-size="5.9" text-anchor="end" font-weight="bold" font-family="Liberation Serif" fill="#222" stroke="#222" stroke-width="0.22" >0.3</text>
<line x1="31.7" y1="251.8" x2="33.0" y2="251.8" stroke="#333" stroke-width="0.7" />
<line x1="30.8" y1="246.1" x2="33.0" y2="246.1" stroke="#333" stroke-width="0.8" />
<text x="29.3" y="248.10000000000002" font-size="5.9" text-anchor="end" font-weight="bold" font-family="Liberation Serif" fill="#222" stroke="#222" stroke-width="0.22" >0.4</text>
<line x1="31.7" y1="240.5" x2="33.0" y2="240.5" stroke="#333" stroke-width="0.7" />
<line x1="30.8" y1="234.8" x2="33.0" y2="234.8" stroke="#333" stroke-width="0.8" />
<text x="29.3" y="236.8" font-size="5.9" text-anchor="end" font-weight="bold" font-family="Liberation Serif" fill="#222" stroke="#222" stroke-width="0.22" >0.5</text>
<line x1="31.7" y1="229.2" x2="33.0" y2="229.2" stroke="#333" stroke-width="0.7" />
<line x1="30.8" y1="223.5" x2="33.0" y2="223.5" stroke="#333" stroke-width="0.8" />
<text x="29.3" y="225.5" font-size="5.9" text-anchor="end" font-weight="bold" font-family="Liberation Serif" fill="#222" stroke="#222" stroke-width="0.22" >0.6</text>
<line x1="31.7" y1="217.9" x2="33.0" y2="217.9" stroke="#333" stroke-width="0.7" />
<line x1="30.8" y1="212.2" x2="33.0" y2="212.2" stroke="#333" stroke-width="0.8" />
<text x="29.3" y="214.20000000000002" font-size="5.9" text-anchor="end" font-weight="bold" font-family="Liberation Serif" fill="#222" stroke="#222" stroke-width="0.22" >0.7</text>
<line x1="31.7" y1="206.6" x2="33.0" y2="206.6" stroke="#333" stroke-width="0.7" />
<line x1="30.8" y1="200.9" x2="33.0" y2="200.9" stroke="#333" stroke-width="0.8" />
<text x="29.3" y="202.9" font-size="5.9" text-anchor="end" font-weight="bold" font-family="Liberation Serif" fill="#222" stroke="#222" stroke-width="0.22" >0.8</text>
<line x1="31.7" y1="195.2" x2="33.0" y2="195.2" stroke="#333" stroke-width="0.7" />
<line x1="30.8" y1="189.6" x2="33.0" y2="189.6" stroke="#333" stroke-width="0.8" />
<text x="29.3" y="191.60000000000002" font-size="5.9" text-anchor="end" font-weight="bold" font-family="Liberation Serif" fill="#222" stroke="#222" stroke-width="0.22" >0.9</text>
<line x1="31.7" y1="183.9" x2="33.0" y2="183.9" stroke="#333" stroke-width="0.7" />
<line x1="30.8" y1="178.3" x2="33.0" y2="178.3" stroke="#333" stroke-width="0.8" />
<text x="29.3" y="180.3" font-size="5.9" text-anchor="end" font-weight="bold" font-family="Liberation Serif" fill="#222" stroke="#222" stroke-width="0.22" >1.0</text>
<line x1="37.3" y1="291.3" x2="37.3" y2="293.5" stroke="#333" stroke-width="0.8" />
<text x="37.3" y="300.6" font-size="5.9" text-anchor="middle" font-weight="bold" font-family="Liberation Serif" fill="#222" stroke="#222" stroke-width="0.22" >3.0</text>
<line x1="47.8" y1="291.3" x2="47.8" y2="292.6" stroke="#333" stroke-width="0.7" />
<line x1="58.4" y1="291.3" x2="58.4" y2="293.5" stroke="#333" stroke-width="0.8" />
<text x="58.4" y="300.6" font-size="5.9" text-anchor="middle" font-weight="bold" font-family="Liberation Serif" fill="#222" stroke="#222" stroke-width="0.22" >3.5</text>
<line x1="69.0" y1="291.3" x2="69.0" y2="292.6" stroke="#333" stroke-width="0.7" />
<line x1="79.5" y1="291.3" x2="79.5" y2="293.5" stroke="#333" stroke-width="0.8" />
<text x="79.5" y="300.6" font-size="5.9" text-anchor="middle" font-weight="bold" font-family="Liberation Serif" fill="#222" stroke="#222" stroke-width="0.22" >4.0</text>
<line x1="90.0" y1="291.3" x2="90.0" y2="292.6" stroke="#333" stroke-width="0.7" />
<line x1="100.6" y1="291.3" x2="100.6" y2="293.5" stroke="#333" stroke-width="0.8" />
<text x="100.6" y="300.6" font-size="5.9" text-anchor="middle" font-weight="bold" font-family="Liberation Serif" fill="#222" stroke="#222" stroke-width="0.22" >4.5</text>
<line x1="111.2" y1="291.3" x2="111.2" y2="292.6" stroke="#333" stroke-width="0.7" />
<line x1="121.7" y1="291.3" x2="121.7" y2="293.5" stroke="#333" stroke-width="0.8" />
<text x="121.7" y="300.6" font-size="5.9" text-anchor="middle" font-weight="bold" font-family="Liberation Serif" fill="#222" stroke="#222" stroke-width="0.22" >5.0</text>
<line x1="132.2" y1="291.3" x2="132.2" y2="292.6" stroke="#333" stroke-width="0.7" />
<line x1="142.8" y1="291.3" x2="142.8" y2="293.5" stroke="#333" stroke-width="0.8" />
<text x="142.8" y="300.6" font-size="5.9" text-anchor="middle" font-weight="bold" font-family="Liberation Serif" fill="#222" stroke="#222" stroke-width="0.22" >5.5</text>
<line x1="153.4" y1="291.3" x2="153.4" y2="292.6" stroke="#333" stroke-width="0.7" />
<line x1="163.9" y1="291.3" x2="163.9" y2="293.5" stroke="#333" stroke-width="0.8" />
<text x="163.9" y="300.6" font-size="5.9" text-anchor="middle" font-weight="bold" font-family="Liberation Serif" fill="#222" stroke="#222" stroke-width="0.22" >6.0</text>
<line x1="174.4" y1="291.3" x2="174.4" y2="292.6" stroke="#333" stroke-width="0.7" />
<text x="103.5" y="309.5" font-size="5.8" text-anchor="middle" font-weight="bold" font-family="Liberation Serif" fill="#222" textLength="55.6" lengthAdjust="spacingAndGlyphs" stroke="#222" stroke-width="0.22" >Potential / V vs. K|K<tspan dy="-2.2" font-size="4">+</tspan><tspan dy="2.2"></tspan></text>
<text x="0" y="0" font-size="5.9" text-anchor="middle" font-weight="bold" font-family="Liberation Serif" fill="#222" textLength="68.8" lengthAdjust="spacingAndGlyphs" stroke="#222" stroke-width="0.22" transform="translate(15.8,231.6) rotate(-90)">Current density / mA cm<tspan dy="-2.3" font-size="4.2">−2</tspan><tspan dy="2.3"></tspan></text>
<line x1="33.0" y1="280.9" x2="174.5" y2="280.9" stroke="#c8c8c8" stroke-width="0.9" />
<rect x="62.4" y="178.4" width="71.1" height="23.8" fill="#fff" stroke="#bbb" stroke-width="0.6"/>
<line x1="63.8" y1="182.8" x2="77.4" y2="182.8" stroke="#4040E8" stroke-width="1.0" />
<text x="79" y="184.9" font-size="6.15" text-anchor="start" font-weight="bold" font-family="Liberation Serif" fill="#222" textLength="53.3" lengthAdjust="spacingAndGlyphs" stroke="#222" stroke-width="0.22" >1.0 M KFSI in EMC</text>
<line x1="63.8" y1="190.5" x2="77.4" y2="190.5" stroke="#E04048" stroke-width="1.0" />
<text x="79" y="192.6" font-size="6.15" text-anchor="start" font-weight="bold" font-family="Liberation Serif" fill="#222" textLength="53.3" lengthAdjust="spacingAndGlyphs" stroke="#222" stroke-width="0.22" >3.5 M KFSI in EMC</text>
<line x1="63.8" y1="198.3" x2="77.4" y2="198.3" stroke="#333" stroke-width="1.0" />
<text x="79" y="200.4" font-size="6.15" text-anchor="start" font-weight="bold" font-family="Liberation Serif" fill="#222" textLength="53.3" lengthAdjust="spacingAndGlyphs" stroke="#222" stroke-width="0.22" >4.0 M KFSI in EMC</text>
<path d="M33.5,291.3 38.9,291.3 46.4,291.2 55.4,291.2 65.2,291.2 75.2,291.1 84.7,291.1 93.2,291.0 100.0,291.0 105.2,291.0 109.5,290.9 113.1,290.9 116.0,290.9 118.5,290.9 120.8,290.9 122.9,290.8 125.0,290.8 127.0,290.8 128.6,290.7 130.0,290.7 131.1,290.6 132.1,290.5 133.0,290.5 134.0,290.4 135.0,290.3 136.1,290.2 137.1,290.1 138.0,290.0 138.9,289.9 139.8,289.8 140.7,289.7 141.5,289.5 142.3,289.3 143.1,289.1 143.8,288.8 144.5,288.6 145.1,288.3 145.8,288.0 146.4,287.6 146.9,287.3 147.5,287.0 148.0,286.7 148.5,286.4 149.0,286.1 149.4,285.8 149.8,285.4 150.2,285.1 150.6,284.6 151.0,284.1 151.4,283.5 151.7,282.9 152.0,282.2 152.4,281.4 152.7,280.6 152.9,279.8 153.2,278.9 153.5,278.0 153.8,277.1 154.0,276.1 154.3,275.1 154.5,274.1 154.7,273.0 154.9,271.9 155.1,270.7 155.3,269.4 155.5,268.0 155.7,266.6 155.8,265.1 156.0,263.5 156.1,261.9 156.2,260.4 156.4,258.8 156.5,257.3 156.6,255.9 156.7,254.8 156.8,253.6 156.9,252.5 157.0,251.3 157.1,249.8 157.2,248.1 157.3,246.0 157.5,243.4 157.6,240.4 157.8,237.2 158.0,233.7 158.2,230.1 158.4,226.6 158.6,223.2 158.8,220.0 159.0,217.0 159.2,214.2 159.4,211.4 159.5,208.6 159.7,205.9 159.9,203.2 160.1,200.6 160.3,198.0 160.5,195.3 160.7,192.5 161.0,189.6 161.2,186.8 161.4,184.2 161.6,181.9 161.8,179.9 161.9,178.4" stroke="#333" stroke-width="1.0" fill="none" stroke-linejoin="round" stroke-linecap="round" />
<path d="M33.5,291.2 38.9,291.2 46.4,291.2 55.4,291.1 65.2,291.1 75.2,291.1 84.7,291.1 93.2,291.0 100.0,291.0 105.2,291.0 109.6,290.9 113.2,290.9 116.2,290.8 118.8,290.8 121.0,290.7 123.0,290.7 125.0,290.6 126.8,290.5 128.1,290.4 129.1,290.3 129.8,290.2 130.4,290.1 130.9,290.0 131.4,289.9 132.0,289.8 132.6,289.7 133.1,289.6 133.5,289.5 133.9,289.4 134.2,289.3 134.6,289.2 135.0,289.0 135.4,288.8 135.9,288.5 136.5,288.2 137.0,287.9 137.6,287.6 138.2,287.2 138.7,286.7 139.2,286.3 139.7,285.8 140.1,285.3 140.5,284.8 140.8,284.3 141.1,283.8 141.4,283.2 141.7,282.5 142.0,281.6 142.3,280.7 142.6,279.6 143.0,278.3 143.3,277.0 143.6,275.5 144.0,274.0 144.3,272.4 144.6,270.9 144.9,269.4 145.2,268.0 145.5,266.6 145.8,265.1 146.0,263.7 146.3,262.3 146.6,260.7 146.8,259.1 147.1,257.3 147.4,255.4 147.6,253.4 147.9,251.3 148.1,249.1 148.4,246.9 148.6,244.6 148.9,242.3 149.2,240.0 149.5,237.6 149.9,235.2 150.3,232.8 150.6,230.3 151.0,227.8 151.4,225.2 151.8,222.6 152.2,220.0 152.6,217.3 153.0,214.6 153.4,211.8 153.8,209.0 154.2,206.2 154.6,203.4 155.0,200.6 155.3,198.0 155.6,195.3 156.0,192.5 156.3,189.6 156.6,186.8 156.9,184.2 157.1,181.9 157.3,179.9 157.5,178.4" stroke="#E03A48" stroke-width="1.0" fill="none" stroke-linejoin="round" stroke-linecap="round" />
<path d="M33.5,291.0 35.6,291.0 38.4,291.0 41.8,290.9 45.5,290.9 49.4,290.9 53.2,290.9 56.8,290.8 60.0,290.8 62.9,290.8 65.7,290.8 68.4,290.7 71.0,290.7 73.5,290.7 75.9,290.7 78.0,290.6 80.0,290.6 81.7,290.6 83.2,290.5 84.5,290.5 85.7,290.5 86.8,290.4 87.8,290.4 88.9,290.3 90.0,290.2 91.2,290.1 92.4,289.9 93.6,289.7 94.7,289.5 95.8,289.2 96.9,289.0 97.8,288.8 98.7,288.6 99.4,288.4 100.1,288.3 100.6,288.1 101.1,288.0 101.6,287.8 102.0,287.7 102.5,287.5 103.0,287.3 103.5,287.1 104.1,286.9 104.6,286.7 105.1,286.5 105.6,286.2 106.2,286.0 106.7,285.7 107.3,285.3 107.9,284.9 108.5,284.5 109.2,284.0 109.8,283.5 110.5,282.9 111.2,282.4 111.8,281.9 112.5,281.3 113.2,280.7 113.8,280.1 114.5,279.4 115.2,278.8 115.8,278.1 116.5,277.5 117.1,277.0 117.7,276.5 118.3,276.1 118.8,275.8 119.4,275.5 119.9,275.2 120.4,275.0 120.9,274.8 121.5,274.6 122.0,274.3 122.5,274.0 123.1,273.8 123.6,273.6 124.1,273.3 124.6,273.1 125.2,272.8 125.7,272.4 126.3,272.0 126.9,271.5 127.5,271.0 128.2,270.4 128.8,269.7 129.5,269.1 130.2,268.4 130.8,267.6 131.5,266.8 132.2,266.0 132.8,265.1 133.5,264.2 134.2,263.2 134.8,262.2 135.5,261.2 136.1,260.1 136.7,259.0 137.3,257.8 137.9,256.6 138.5,255.3 139.0,253.9 139.6,252.6 140.1,251.2 140.5,249.9 141.0,248.7 141.4,247.6 141.8,246.7 142.1,245.8 142.4,245.0 142.7,244.0 143.0,242.9 143.3,241.6 143.6,240.0 143.9,238.1 144.1,235.8 144.4,233.4 144.6,230.8 144.8,228.1 145.1,225.4 145.3,222.7 145.6,220.0 145.9,217.3 146.2,214.6 146.6,211.8 146.9,209.0 147.3,206.2 147.6,203.4 147.9,200.6 148.2,198.0 148.5,195.3 148.7,192.5 149.0,189.6 149.3,186.8 149.5,184.2 149.7,181.9 149.9,179.9 150.0,178.4" stroke="#4545E8" stroke-width="1.0" fill="none" stroke-linejoin="round" stroke-linecap="round" />
<text x="198.3" y="168.9" font-size="12.5" text-anchor="middle" font-weight="bold" font-family="Liberation Sans" fill="#111" >(e)</text>
<line x1="205.0" y1="178.2" x2="246.4" y2="178.2" stroke="#111" stroke-width="1.4" />
<line x1="205.0" y1="178.2" x2="205.0" y2="293.5" stroke="#111" stroke-width="1.4" />
<line x1="205.0" y1="293.5" x2="246.4" y2="293.5" stroke="#111" stroke-width="1.4" />
<line x1="255.0" y1="178.2" x2="350.6" y2="178.2" stroke="#111" stroke-width="1.4" />
<line x1="350.6" y1="178.2" x2="350.6" y2="293.5" stroke="#111" stroke-width="1.4" />
<line x1="255.0" y1="293.5" x2="350.6" y2="293.5" stroke="#111" stroke-width="1.4" />
<line x1="205.4" y1="293.5" x2="205.4" y2="295.7" stroke="#111" stroke-width="1.2" />
<text x="205.4" y="302.7" font-size="6.3" text-anchor="middle" font-weight="bold" font-family="Liberation Sans" fill="#111" stroke="#111" stroke-width="0.22" >1250</text>
<line x1="222.4" y1="293.5" x2="222.4" y2="295.7" stroke="#111" stroke-width="1.2" />
<text x="222.4" y="302.7" font-size="6.3" text-anchor="middle" font-weight="bold" font-family="Liberation Sans" fill="#111" stroke="#111" stroke-width="0.22" >1225</text>
<line x1="239.4" y1="293.5" x2="239.4" y2="295.7" stroke="#111" stroke-width="1.2" />
<text x="239.4" y="302.7" font-size="6.3" text-anchor="middle" font-weight="bold" font-family="Liberation Sans" fill="#111" stroke="#111" stroke-width="0.22" >1200</text>
<line x1="213.9" y1="293.5" x2="213.9" y2="295.0" stroke="#111" stroke-width="1.0" />
<line x1="230.9" y1="293.5" x2="230.9" y2="295.0" stroke="#111" stroke-width="1.0" />
<line x1="260.3" y1="293.5" x2="260.3" y2="295.7" stroke="#111" stroke-width="1.2" />
<text x="260.3" y="302.7" font-size="6.3" text-anchor="middle" font-weight="bold" font-family="Liberation Sans" fill="#111" stroke="#111" stroke-width="0.22" >775</text>
<line x1="287.0" y1="293.5" x2="287.0" y2="295.7" stroke="#111" stroke-width="1.2" />
<text x="287.0" y="302.7" font-size="6.3" text-anchor="middle" font-weight="bold" font-family="Liberation Sans" fill="#111" stroke="#111" stroke-width="0.22" >750</text>
<line x1="313.7" y1="293.5" x2="313.7" y2="295.7" stroke="#111" stroke-width="1.2" />
<text x="313.7" y="302.7" font-size="6.3" text-anchor="middle" font-weight="bold" font-family="Liberation Sans" fill="#111" stroke="#111" stroke-width="0.22" >725</text>
<line x1="340.4" y1="293.5" x2="340.4" y2="295.7" stroke="#111" stroke-width="1.2" />
<text x="340.4" y="302.7" font-size="6.3" text-anchor="middle" font-weight="bold" font-family="Liberation Sans" fill="#111" stroke="#111" stroke-width="0.22" >700</text>
<line x1="273.7" y1="293.5" x2="273.7" y2="295.0" stroke="#111" stroke-width="1.0" />
<line x1="300.4" y1="293.5" x2="300.4" y2="295.0" stroke="#111" stroke-width="1.0" />
<line x1="327.1" y1="293.5" x2="327.1" y2="295.0" stroke="#111" stroke-width="1.0" />
<text x="270.7" y="309.6" font-size="7.9" text-anchor="middle" font-weight="bold" font-family="Liberation Sans" fill="#111" textLength="65.5" lengthAdjust="spacingAndGlyphs" stroke="#111" stroke-width="0.22" >Raman shift (cm<tspan dy="-3" font-size="5">−1</tspan><tspan dy="3">)</tspan></text>
<text x="0" y="0" font-size="7.1" text-anchor="middle" font-weight="bold" font-family="Liberation Sans" fill="#111" textLength="50" lengthAdjust="spacingAndGlyphs" stroke="#111" stroke-width="0.22" transform="translate(201.7,237.0) rotate(-90)">Intensity (a. u.)</text>
<path d="M206.0,198.2 206.7,198.4 207.3,198.3 208.0,198.4 208.7,198.3 209.3,198.0 210.0,197.9 210.7,198.2 211.3,197.8 212.0,197.6 212.7,197.8 213.3,197.3 214.0,197.1 214.7,196.5 215.3,196.1 216.0,195.3 216.7,195.0 217.3,194.4 218.0,193.5 218.7,192.8 219.3,192.0 220.0,191.0 220.7,190.6 221.3,189.9 222.0,189.2 222.7,188.6 223.3,188.7 224.0,188.4 224.7,188.5 225.3,188.8 226.0,189.1 226.7,189.7 227.3,190.0 228.0,190.9 228.7,191.5 229.3,192.5 230.0,193.2 230.7,193.6 231.3,194.3 232.0,195.0 232.7,196.0 233.3,196.2 234.0,196.8 234.7,197.0 235.3,197.4 236.0,197.6 236.7,197.8 237.3,198.0 238.0,198.1 238.7,198.4 239.3,198.3 240.0,198.5 240.7,198.5 241.3,198.6 242.0,198.5 242.7,198.2 243.3,198.6 244.0,198.6 244.7,198.6 245.3,198.4 246.0,198.5" stroke="#E040E0" stroke-width="1.65" fill="none" stroke-linejoin="round" stroke-linecap="round" />
<path d="M206.0,212.1 206.7,212.5 207.3,212.3 208.0,212.1 208.7,212.0 209.3,212.4 210.0,212.5 210.7,211.9 211.3,212.2 212.0,211.9 212.7,211.6 213.3,211.5 214.0,211.5 214.7,211.3 215.3,210.5 216.0,210.4 216.7,209.6 217.3,209.6 218.0,208.8 218.7,208.6 219.3,208.1 220.0,207.2 220.7,207.0 221.3,206.1 222.0,205.6 222.7,205.6 223.3,205.1 224.0,205.1 224.7,205.3 225.3,205.6 226.0,205.6 226.7,206.0 227.3,206.9 228.0,207.1 228.7,208.0 229.3,208.6 230.0,208.8 230.7,209.4 231.3,209.9 232.0,210.4 232.7,210.8 233.3,211.1 234.0,211.4 234.7,211.8 235.3,211.8 236.0,211.9 236.7,212.1 237.3,211.9 238.0,212.0 238.7,212.5 239.3,212.2 240.0,212.3 240.7,212.0 241.3,212.2 242.0,212.3 242.7,212.0 243.3,212.4 244.0,212.4 244.7,212.0 245.3,212.4 246.0,212.3" stroke="#E02828" stroke-width="1.65" fill="none" stroke-linejoin="round" stroke-linecap="round" />
<path d="M206.0,228.5 206.7,228.3 207.3,228.5 208.0,228.5 208.7,228.2 209.3,228.2 210.0,228.5 210.7,228.6 211.3,228.3 212.0,228.4 212.7,228.4 213.3,228.3 214.0,228.3 214.7,228.2 215.3,228.2 216.0,228.3 216.7,228.1 217.3,228.1 218.0,228.1 218.7,227.6 219.3,227.7 220.0,227.6 220.7,227.2 221.3,226.9 222.0,227.0 222.7,226.5 223.3,226.3 224.0,226.2 224.7,226.2 225.3,225.9 226.0,226.0 226.7,226.1 227.3,226.5 228.0,226.5 228.7,226.9 229.3,226.8 230.0,227.1 230.7,227.5 231.3,227.8 232.0,227.8 232.7,227.8 233.3,227.9 234.0,228.2 234.7,228.1 235.3,228.4 236.0,228.5 236.7,228.2 237.3,228.3 238.0,228.5 238.7,228.5 239.3,228.5 240.0,228.3 240.7,228.2 241.3,228.3 242.0,228.5 242.7,228.3 243.3,228.3 244.0,228.4 244.7,228.4 245.3,228.4 246.0,228.6" stroke="#2A2AD8" stroke-width="1.65" fill="none" stroke-linejoin="round" stroke-linecap="round" />
<path d="M206.0,257.4 206.7,257.2 207.3,257.5 208.0,257.4 208.7,257.3 209.3,257.1 210.0,257.2 210.7,257.1 211.3,256.8 212.0,256.8 212.7,256.7 213.3,256.6 214.0,256.4 214.7,256.3 215.3,256.2 216.0,256.1 216.7,255.9 217.3,256.0 218.0,255.9 218.7,256.0 219.3,255.7 220.0,255.9 220.7,255.9 221.3,255.9 222.0,255.9 222.7,256.0 223.3,255.9 224.0,255.8 224.7,256.1 225.3,256.0 226.0,256.1 226.7,256.3 227.3,256.3 228.0,256.4 228.7,256.7 229.3,256.7 230.0,256.7 230.7,256.8 231.3,257.0 232.0,257.0 232.7,257.2 233.3,257.1 234.0,257.2 234.7,257.3 235.3,257.5 236.0,257.4 236.7,257.6 237.3,257.7 238.0,257.7 238.7,257.7 239.3,257.5 240.0,257.7 240.7,257.8 241.3,257.6 242.0,257.7 242.7,257.7 243.3,257.8 244.0,257.7 244.7,257.8 245.3,257.9 246.0,257.6" stroke="#2A8AE8" stroke-width="1.65" fill="none" stroke-linejoin="round" stroke-linecap="round" />
<path d="M206.0,285.6 206.7,285.6 207.3,285.6 208.0,285.6 208.7,285.6 209.3,285.6 210.0,285.6 210.7,285.5 211.3,285.4 212.0,285.1 212.7,284.6 213.3,283.8 214.0,282.5 214.7,280.5 215.3,277.9 216.0,274.6 216.7,270.9 217.3,267.2 218.0,264.0 218.7,261.6 219.3,260.4 220.0,260.6 220.7,261.8 221.3,263.7 222.0,265.8 222.7,267.9 223.3,269.6 224.0,271.0 224.7,272.0 225.3,272.9 226.0,273.8 226.7,274.8 227.3,275.9 228.0,277.1 228.7,278.4 229.3,279.6 230.0,280.7 230.7,281.7 231.3,282.5 232.0,283.2 232.7,283.8 233.3,284.2 234.0,284.6 234.7,284.8 235.3,285.1 236.0,285.3 236.7,285.4 237.3,285.5 238.0,285.6 238.7,285.7 239.3,285.7 240.0,285.7 240.7,285.8 241.3,285.8 242.0,285.8 242.7,285.8 243.3,285.8 244.0,285.9 244.7,285.9 245.3,285.9 246.0,285.9" stroke="#111" stroke-width="1.7" fill="none" stroke-linejoin="round" stroke-linecap="round" />
<text x="206.1" y="184.5" font-size="5.4" text-anchor="start" font-weight="bold" font-family="Liberation Sans" fill="#222" textLength="48" lengthAdjust="spacingAndGlyphs" stroke="#222" stroke-width="0.22" >8.0m KFSI/EC-DMC</text>
<text x="206.1" y="203.3" font-size="5.4" text-anchor="start" font-weight="bold" font-family="Liberation Sans" fill="#222" textLength="48" lengthAdjust="spacingAndGlyphs" stroke="#222" stroke-width="0.22" >4.0m KFSI/EC-DMC</text>
<text x="206.1" y="221.8" font-size="5.4" text-anchor="start" font-weight="bold" font-family="Liberation Sans" fill="#222" textLength="48" lengthAdjust="spacingAndGlyphs" stroke="#222" stroke-width="0.22" >0.8m KFSI/EC-DMC</text>
<text x="234.8" y="253.2" font-size="5.4" text-anchor="middle" font-weight="bold" font-family="Liberation Sans" fill="#222" textLength="21.6" lengthAdjust="spacingAndGlyphs" stroke="#222" stroke-width="0.22" >EC-DMC</text>
<text x="235.6" y="278.2" font-size="5.4" text-anchor="middle" font-weight="bold" font-family="Liberation Sans" fill="#222" textLength="12.1" lengthAdjust="spacingAndGlyphs" stroke="#222" stroke-width="0.22" >KFSI</text>
<path d="M258,198.6 L258.0,198.6 L259.5,198.6 L261.0,198.6 L262.6,198.6 L264.1,198.6 L265.6,198.5 L267.1,198.5 L268.6,198.4 L270.1,198.3 L271.6,198.1 L273.2,197.8 L274.7,197.5 L276.2,197.0 L277.7,196.5 L279.2,195.8 L280.8,195.0 L282.3,194.2 L283.8,193.4 L285.3,192.5 L286.8,191.8 L288.3,191.2 L289.9,190.8 L291.4,190.7 L292.9,190.8 L294.4,191.1 L295.9,191.7 L297.4,192.4 L298.9,193.2 L300.5,194.1 L302.0,194.9 L303.5,195.7 L305.0,196.4 L306.5,196.9 L308.1,197.4 L309.6,197.8 L311.1,198.0 L312.6,198.2 L314.1,198.4 L315.6,198.5 L317.1,198.5 L318.7,198.6 L320.2,198.6 L321.7,198.6 L323.2,198.6 L324.7,198.6 L326.2,198.6 L327.8,198.6 L329.3,198.6 L330.8,198.6 L332.3,198.6 L333.8,198.6 L335.4,198.6 L336.9,198.6 L338.4,198.6 L339.9,198.6 L341.4,198.6 L342.9,198.6 L344.4,198.6 L346.0,198.6 L347.5,198.6 L349.0,198.6 L349,198.6Z" fill="#B060E8" fill-opacity="0.9" stroke="none"/>
<path d="M258,198.6 L258.0,198.6 L259.5,198.6 L261.0,198.6 L262.6,198.6 L264.1,198.6 L265.6,198.6 L267.1,198.6 L268.6,198.6 L270.1,198.6 L271.6,198.6 L273.2,198.6 L274.7,198.6 L276.2,198.6 L277.7,198.6 L279.2,198.6 L280.8,198.6 L282.3,198.6 L283.8,198.6 L285.3,198.6 L286.8,198.6 L288.3,198.6 L289.9,198.5 L291.4,198.4 L292.9,198.2 L294.4,197.9 L295.9,197.4 L297.4,196.8 L298.9,196.0 L300.5,195.3 L302.0,194.6 L303.5,194.1 L305.0,193.9 L306.5,194.1 L308.1,194.6 L309.6,195.3 L311.1,196.1 L312.6,196.8 L314.1,197.4 L315.6,197.9 L317.1,198.2 L318.7,198.4 L320.2,198.5 L321.7,198.6 L323.2,198.6 L324.7,198.6 L326.2,198.6 L327.8,198.6 L329.3,198.6 L330.8,198.6 L332.3,198.6 L333.8,198.6 L335.4,198.6 L336.9,198.6 L338.4,198.6 L339.9,198.6 L341.4,198.6 L342.9,198.6 L344.4,198.6 L346.0,198.6 L347.5,198.6 L349.0,198.6 L349,198.6Z" fill="#F0A040" fill-opacity="0.9" stroke="none"/>
<path d="M258,198.6 L258.0,198.6 L259.5,198.6 L261.0,198.6 L262.6,198.6 L264.1,198.6 L265.6,198.6 L267.1,198.6 L268.6,198.6 L270.1,198.6 L271.6,198.6 L273.2,198.6 L274.7,198.6 L276.2,198.6 L277.7,198.6 L279.2,198.6 L280.8,198.6 L282.3,198.6 L283.8,198.6 L285.3,198.6 L286.8,198.6 L288.3,198.6 L289.9,198.6 L291.4,198.6 L292.9,198.6 L294.4,198.6 L295.9,198.6 L297.4,198.6 L298.9,198.6 L300.5,198.6 L302.0,198.6 L303.5,198.5 L305.0,198.5 L306.5,198.3 L308.1,197.9 L309.6,197.2 L311.1,196.3 L312.6,195.2 L314.1,194.0 L315.6,193.1 L317.1,192.8 L318.7,193.1 L320.2,193.9 L321.7,195.1 L323.2,196.2 L324.7,197.2 L326.2,197.8 L327.8,198.2 L329.3,198.4 L330.8,198.5 L332.3,198.6 L333.8,198.6 L335.4,198.6 L336.9,198.6 L338.4,198.6 L339.9,198.6 L341.4,198.6 L342.9,198.6 L344.4,198.6 L346.0,198.6 L347.5,198.6 L349.0,198.6 L349,198.6Z" fill="#30A8A0" fill-opacity="0.9" stroke="none"/>
<path d="M258,211.8 L258.0,211.8 L259.5,211.8 L261.0,211.8 L262.6,211.8 L264.1,211.8 L265.6,211.8 L267.1,211.8 L268.6,211.7 L270.1,211.7 L271.6,211.6 L273.2,211.5 L274.7,211.3 L276.2,211.1 L277.7,210.9 L279.2,210.6 L280.8,210.3 L282.3,209.9 L283.8,209.6 L285.3,209.3 L286.8,209.0 L288.3,208.9 L289.9,208.8 L291.4,208.8 L292.9,209.0 L294.4,209.2 L295.9,209.5 L297.4,209.9 L298.9,210.2 L300.5,210.5 L302.0,210.8 L303.5,211.1 L305.0,211.3 L306.5,211.4 L308.1,211.6 L309.6,211.6 L311.1,211.7 L312.6,211.7 L314.1,211.8 L315.6,211.8 L317.1,211.8 L318.7,211.8 L320.2,211.8 L321.7,211.8 L323.2,211.8 L324.7,211.8 L326.2,211.8 L327.8,211.8 L329.3,211.8 L330.8,211.8 L332.3,211.8 L333.8,211.8 L335.4,211.8 L336.9,211.8 L338.4,211.8 L339.9,211.8 L341.4,211.8 L342.9,211.8 L344.4,211.8 L346.0,211.8 L347.5,211.8 L349.0,211.8 L349,211.8Z" fill="#B060E8" fill-opacity="0.9" stroke="none"/>
<path d="M258,211.8 L258.0,211.8 L259.5,211.8 L261.0,211.8 L262.6,211.8 L264.1,211.8 L265.6,211.8 L267.1,211.8 L268.6,211.8 L270.1,211.8 L271.6,211.8 L273.2,211.8 L274.7,211.8 L276.2,211.8 L277.7,211.8 L279.2,211.8 L280.8,211.8 L282.3,211.7 L283.8,211.7 L285.3,211.6 L286.8,211.5 L288.3,211.2 L289.9,210.9 L291.4,210.4 L292.9,209.8 L294.4,209.1 L295.9,208.4 L297.4,207.7 L298.9,207.1 L300.5,206.6 L302.0,206.5 L303.5,206.6 L305.0,207.0 L306.5,207.6 L308.1,208.4 L309.6,209.1 L311.1,209.8 L312.6,210.4 L314.1,210.9 L315.6,211.2 L317.1,211.4 L318.7,211.6 L320.2,211.7 L321.7,211.7 L323.2,211.8 L324.7,211.8 L326.2,211.8 L327.8,211.8 L329.3,211.8 L330.8,211.8 L332.3,211.8 L333.8,211.8 L335.4,211.8 L336.9,211.8 L338.4,211.8 L339.9,211.8 L341.4,211.8 L342.9,211.8 L344.4,211.8 L346.0,211.8 L347.5,211.8 L349.0,211.8 L349,211.8Z" fill="#F0A040" fill-opacity="0.9" stroke="none"/>
<path d="M258,211.8 L258.0,211.8 L259.5,211.8 L261.0,211.8 L262.6,211.8 L264.1,211.8 L265.6,211.8 L267.1,211.8 L268.6,211.8 L270.1,211.8 L271.6,211.8 L273.2,211.8 L274.7,211.8 L276.2,211.8 L277.7,211.8 L279.2,211.8 L280.8,211.8 L282.3,211.8 L283.8,211.8 L285.3,211.8 L286.8,211.8 L288.3,211.8 L289.9,211.8 L291.4,211.8 L292.9,211.8 L294.4,211.8 L295.9,211.8 L297.4,211.8 L298.9,211.8 L300.5,211.8 L302.0,211.8 L303.5,211.7 L305.0,211.6 L306.5,211.3 L308.1,210.8 L309.6,209.9 L311.1,208.6 L312.6,207.0 L314.1,205.4 L315.6,204.1 L317.1,203.6 L318.7,204.0 L320.2,205.1 L321.7,206.7 L323.2,208.3 L324.7,209.7 L326.2,210.7 L327.8,211.3 L329.3,211.6 L330.8,211.7 L332.3,211.8 L333.8,211.8 L335.4,211.8 L336.9,211.8 L338.4,211.8 L339.9,211.8 L341.4,211.8 L342.9,211.8 L344.4,211.8 L346.0,211.8 L347.5,211.8 L349.0,211.8 L349,211.8Z" fill="#30A8A0" fill-opacity="0.9" stroke="none"/>
<path d="M258,228.3 L258.0,228.3 L259.5,228.3 L261.0,228.3 L262.6,228.3 L264.1,228.3 L265.6,228.3 L267.1,228.3 L268.6,228.3 L270.1,228.3 L271.6,228.3 L273.2,228.3 L274.7,228.3 L276.2,228.3 L277.7,228.3 L279.2,228.3 L280.8,228.3 L282.3,228.3 L283.8,228.3 L285.3,228.3 L286.8,228.3 L288.3,228.3 L289.9,228.3 L291.4,228.3 L292.9,228.3 L294.4,228.3 L295.9,228.3 L297.4,228.3 L298.9,228.3 L300.5,228.3 L302.0,228.3 L303.5,228.2 L305.0,228.1 L306.5,227.9 L308.1,227.6 L309.6,227.3 L311.1,227.0 L312.6,226.8 L314.1,226.9 L315.6,227.1 L317.1,227.4 L318.7,227.8 L320.2,228.0 L321.7,228.2 L323.2,228.2 L324.7,228.3 L326.2,228.3 L327.8,228.3 L329.3,228.3 L330.8,228.3 L332.3,228.3 L333.8,228.3 L335.4,228.3 L336.9,228.3 L338.4,228.3 L339.9,228.3 L341.4,228.3 L342.9,228.3 L344.4,228.3 L346.0,228.3 L347.5,228.3 L349.0,228.3 L349,228.3Z" fill="#F0A040" fill-opacity="0.9" stroke="none"/>
<path d="M258,228.3 L258.0,228.3 L259.5,228.3 L261.0,228.3 L262.6,228.3 L264.1,228.3 L265.6,228.3 L267.1,228.3 L268.6,228.3 L270.1,228.3 L271.6,228.3 L273.2,228.3 L274.7,228.3 L276.2,228.3 L277.7,228.3 L279.2,228.3 L280.8,228.3 L282.3,228.3 L283.8,228.3 L285.3,228.3 L286.8,228.3 L288.3,228.3 L289.9,228.3 L291.4,228.3 L292.9,228.3 L294.4,228.3 L295.9,228.3 L297.4,228.3 L298.9,228.3 L300.5,228.3 L302.0,228.3 L303.5,228.3 L305.0,228.3 L306.5,228.3 L308.1,228.3 L309.6,228.2 L311.1,228.1 L312.6,227.7 L314.1,226.8 L315.6,225.5 L317.1,224.0 L318.7,222.7 L320.2,222.3 L321.7,223.0 L323.2,224.4 L324.7,225.9 L326.2,227.1 L327.8,227.8 L329.3,228.1 L330.8,228.2 L332.3,228.3 L333.8,228.3 L335.4,228.3 L336.9,228.3 L338.4,228.3 L339.9,228.3 L341.4,228.3 L342.9,228.3 L344.4,228.3 L346.0,228.3 L347.5,228.3 L349.0,228.3 L349,228.3Z" fill="#30A8A0" fill-opacity="0.9" stroke="none"/>
<path d="M258,228.3 L258.0,228.3 L259.5,228.3 L261.0,228.3 L262.6,228.3 L264.1,228.3 L265.6,228.3 L267.1,228.3 L268.6,228.3 L270.1,228.3 L271.6,228.3 L273.2,228.3 L274.7,228.3 L276.2,228.3 L277.7,228.3 L279.2,228.3 L280.8,228.3 L282.3,228.3 L283.8,228.3 L285.3,228.3 L286.8,228.3 L288.3,228.3 L289.9,228.3 L291.4,228.3 L292.9,228.3 L294.4,228.3 L295.9,228.3 L297.4,228.3 L298.9,228.3 L300.5,228.3 L302.0,228.3 L303.5,228.3 L305.0,228.3 L306.5,228.3 L308.1,228.3 L309.6,228.3 L311.1,228.3 L312.6,228.3 L314.1,228.2 L315.6,227.9 L317.1,227.2 L318.7,226.1 L320.2,225.0 L321.7,224.3 L323.2,224.6 L324.7,225.7 L326.2,226.8 L327.8,227.7 L329.3,228.1 L330.8,228.2 L332.3,228.3 L333.8,228.3 L335.4,228.3 L336.9,228.3 L338.4,228.3 L339.9,228.3 L341.4,228.3 L342.9,228.3 L344.4,228.3 L346.0,228.3 L347.5,228.3 L349.0,228.3 L349,228.3Z" fill="#40C0E0" fill-opacity="0.9" stroke="none"/>
<path d="M258,257.5 L258.0,257.5 L259.5,257.5 L261.0,257.5 L262.6,257.5 L264.1,257.5 L265.6,257.5 L267.1,257.5 L268.6,257.5 L270.1,257.5 L271.6,257.5 L273.2,257.5 L274.7,257.5 L276.2,257.5 L277.7,257.5 L279.2,257.5 L280.8,257.5 L282.3,257.5 L283.8,257.5 L285.3,257.5 L286.8,257.5 L288.3,257.5 L289.9,257.5 L291.4,257.5 L292.9,257.5 L294.4,257.5 L295.9,257.5 L297.4,257.5 L298.9,257.5 L300.5,257.5 L302.0,257.5 L303.5,257.5 L305.0,257.5 L306.5,257.5 L308.1,257.5 L309.6,257.4 L311.1,257.1 L312.6,256.6 L314.1,255.6 L315.6,253.9 L317.1,251.7 L318.7,249.3 L320.2,247.2 L321.7,246.2 L323.2,246.7 L324.7,248.4 L326.2,250.7 L327.8,253.1 L329.3,255.0 L330.8,256.2 L332.3,256.9 L333.8,257.3 L335.4,257.4 L336.9,257.5 L338.4,257.5 L339.9,257.5 L341.4,257.5 L342.9,257.5 L344.4,257.5 L346.0,257.5 L347.5,257.5 L349.0,257.5 L349,257.5Z" fill="#3399EE" fill-opacity="0.9" stroke="none"/>
<path d="M255.5,198.6 256.4,198.6 257.4,198.6 258.3,198.6 259.3,198.6 260.2,198.6 261.2,198.6 262.1,198.6 263.0,198.5 264.0,198.5 264.9,198.5 265.9,198.5 266.8,198.4 267.8,198.3 268.7,198.3 269.6,198.2 270.6,198.0 271.5,197.9 272.5,197.7 273.4,197.5 274.4,197.2 275.3,196.9 276.2,196.6 277.2,196.2 278.1,195.8 279.1,195.3 280.0,194.8 281.0,194.3 281.9,193.8 282.8,193.2 283.8,192.7 284.7,192.2 285.7,191.7 286.6,191.2 287.6,190.8 288.5,190.5 289.4,190.2 290.4,190.0 291.3,189.9 292.3,189.8 293.2,189.8 294.2,189.8 295.1,189.9 296.0,189.9 297.0,190.0 297.9,190.0 298.9,190.1 299.8,190.2 300.8,190.2 301.7,190.4 302.6,190.5 303.6,190.7 304.5,191.0 305.5,191.3 306.4,191.7 307.4,192.0 308.3,192.3 309.3,192.5 310.2,192.5 311.1,192.4 312.1,192.1 313.0,191.7 314.0,191.2 314.9,190.8 315.9,190.6 316.8,190.5 317.7,190.7 318.7,191.2 319.6,191.9 320.6,192.8 321.5,193.8 322.5,194.8 323.4,195.7 324.3,196.4 325.3,197.1 326.2,197.6 327.2,198.0 328.1,198.2 329.1,198.4 330.0,198.5 330.9,198.5 331.9,198.6 332.8,198.6 333.8,198.6 334.7,198.6 335.7,198.6 336.6,198.6 337.5,198.6 338.5,198.6 339.4,198.6 340.4,198.6 341.3,198.6 342.3,198.6 343.2,198.6 344.1,198.6 345.1,198.6 346.0,198.6 347.0,198.6 347.9,198.6 348.9,198.6 349.8,198.6" stroke="#E040E0" stroke-width="1.65" fill="none" stroke-linejoin="round" stroke-linecap="round" />
<path d="M255.5,211.8 256.4,211.8 257.4,211.8 258.3,211.8 259.3,211.8 260.2,211.8 261.2,211.8 262.1,211.8 263.0,211.8 264.0,211.8 264.9,211.8 265.9,211.8 266.8,211.8 267.8,211.7 268.7,211.7 269.6,211.7 270.6,211.6 271.5,211.6 272.5,211.5 273.4,211.4 274.4,211.4 275.3,211.2 276.2,211.1 277.2,211.0 278.1,210.8 279.1,210.6 280.0,210.4 281.0,210.2 281.9,210.0 282.8,209.7 283.8,209.5 284.7,209.2 285.7,209.0 286.6,208.7 287.6,208.5 288.5,208.2 289.4,208.0 290.4,207.7 291.3,207.4 292.3,207.1 293.2,206.8 294.2,206.5 295.1,206.2 296.0,205.9 297.0,205.7 297.9,205.4 298.9,205.3 299.8,205.2 300.8,205.2 301.7,205.3 302.6,205.4 303.6,205.7 304.5,206.0 305.5,206.3 306.4,206.6 307.4,206.9 308.3,207.0 309.3,207.0 310.2,206.7 311.1,206.3 312.1,205.7 313.0,205.0 314.0,204.3 314.9,203.6 315.9,203.1 316.8,202.9 317.7,203.0 318.7,203.5 319.6,204.2 320.6,205.2 321.5,206.3 322.5,207.3 323.4,208.4 324.3,209.3 325.3,210.0 326.2,210.6 327.2,211.0 328.1,211.3 329.1,211.5 330.0,211.6 330.9,211.7 331.9,211.8 332.8,211.8 333.8,211.8 334.7,211.8 335.7,211.8 336.6,211.8 337.5,211.8 338.5,211.8 339.4,211.8 340.4,211.8 341.3,211.8 342.3,211.8 343.2,211.8 344.1,211.8 345.1,211.8 346.0,211.8 347.0,211.8 347.9,211.8 348.9,211.8 349.8,211.8" stroke="#E02828" stroke-width="1.65" fill="none" stroke-linejoin="round" stroke-linecap="round" />
<path d="M255.5,228.3 256.4,228.3 257.4,228.3 258.3,228.3 259.3,228.3 260.2,228.3 261.2,228.3 262.1,228.3 263.0,228.3 264.0,228.3 264.9,228.3 265.9,228.3 266.8,228.3 267.8,228.3 268.7,228.3 269.6,228.3 270.6,228.3 271.5,228.3 272.5,228.3 273.4,228.3 274.4,228.3 275.3,228.3 276.2,228.3 277.2,228.3 278.1,228.3 279.1,228.3 280.0,228.3 281.0,228.2 281.9,228.2 282.8,228.2 283.8,228.2 284.7,228.1 285.7,228.1 286.6,228.1 287.6,228.0 288.5,227.9 289.4,227.9 290.4,227.8 291.3,227.7 292.3,227.7 293.2,227.6 294.2,227.5 295.1,227.5 296.0,227.4 297.0,227.4 297.9,227.3 298.9,227.3 299.8,227.3 300.8,227.3 301.7,227.3 302.6,227.3 303.6,227.3 304.5,227.3 305.5,227.3 306.4,227.2 307.4,227.1 308.3,226.9 309.3,226.7 310.2,226.5 311.1,226.3 312.1,225.9 313.0,225.4 314.0,224.8 314.9,224.0 315.9,223.0 316.8,222.0 317.7,221.0 318.7,220.2 319.6,219.9 320.6,220.1 321.5,220.8 322.5,221.9 323.4,223.2 324.3,224.6 325.3,225.7 326.2,226.6 327.2,227.3 328.1,227.8 329.1,228.0 330.0,228.2 330.9,228.2 331.9,228.3 332.8,228.3 333.8,228.3 334.7,228.3 335.7,228.3 336.6,228.3 337.5,228.3 338.5,228.3 339.4,228.3 340.4,228.3 341.3,228.3 342.3,228.3 343.2,228.3 344.1,228.3 345.1,228.3 346.0,228.3 347.0,228.3 347.9,228.3 348.9,228.3 349.8,228.3" stroke="#2A2AD8" stroke-width="1.65" fill="none" stroke-linejoin="round" stroke-linecap="round" />
<path d="M255.5,257.5 256.4,257.5 257.4,257.5 258.3,257.5 259.3,257.5 260.2,257.5 261.2,257.5 262.1,257.5 263.0,257.5 264.0,257.5 264.9,257.5 265.9,257.5 266.8,257.5 267.8,257.5 268.7,257.5 269.6,257.5 270.6,257.5 271.5,257.5 272.5,257.5 273.4,257.5 274.4,257.5 275.3,257.5 276.2,257.5 277.2,257.5 278.1,257.5 279.1,257.5 280.0,257.5 281.0,257.5 281.9,257.5 282.8,257.5 283.8,257.5 284.7,257.5 285.7,257.5 286.6,257.5 287.6,257.5 288.5,257.5 289.4,257.5 290.4,257.5 291.3,257.5 292.3,257.5 293.2,257.5 294.2,257.5 295.1,257.5 296.0,257.5 297.0,257.5 297.9,257.5 298.9,257.5 299.8,257.5 300.8,257.5 301.7,257.5 302.6,257.5 303.6,257.5 304.5,257.5 305.5,257.5 306.4,257.5 307.4,257.5 308.3,257.4 309.3,257.4 310.2,257.3 311.1,257.1 312.1,256.8 313.0,256.3 314.0,255.7 314.9,254.8 315.9,253.6 316.8,252.3 317.7,250.7 318.7,249.2 319.6,247.9 320.6,246.8 321.5,246.3 322.5,246.3 323.4,246.8 324.3,247.8 325.3,249.2 326.2,250.7 327.2,252.2 328.1,253.6 329.1,254.7 330.0,255.7 330.9,256.3 331.9,256.8 332.8,257.1 333.8,257.3 334.7,257.4 335.7,257.4 336.6,257.5 337.5,257.5 338.5,257.5 339.4,257.5 340.4,257.5 341.3,257.5 342.3,257.5 343.2,257.5 344.1,257.5 345.1,257.5 346.0,257.5 347.0,257.5 347.9,257.5 348.9,257.5 349.8,257.5" stroke="#2A8AE8" stroke-width="1.65" fill="none" stroke-linejoin="round" stroke-linecap="round" />
<path d="M255.5,285.4 256.4,285.4 257.4,285.4 258.3,285.4 259.3,285.3 260.2,285.3 261.2,285.3 262.1,285.2 263.0,285.0 264.0,284.6 264.9,284.2 265.9,283.8 266.8,283.7 267.8,284.0 268.7,284.3 269.6,284.7 270.6,284.9 271.5,285.0 272.5,285.0 273.4,284.9 274.4,284.8 275.3,284.7 276.2,284.5 277.2,284.3 278.1,283.9 279.1,283.4 280.0,282.6 281.0,281.6 281.9,280.2 282.8,278.4 283.8,276.3 284.7,274.2 285.7,272.5 286.6,271.9 287.6,272.8 288.5,274.7 289.4,276.8 290.4,278.8 291.3,280.4 292.3,281.7 293.2,282.7 294.2,283.3 295.1,283.8 296.0,284.1 297.0,284.2 297.9,284.3 298.9,284.3 299.8,284.3 300.8,284.2 301.7,284.0 302.6,283.7 303.6,283.3 304.5,282.7 305.5,282.0 306.4,281.1 307.4,280.2 308.3,279.2 309.3,278.4 310.2,278.1 311.1,278.4 312.1,279.3 313.0,280.4 314.0,281.5 314.9,282.5 315.9,283.3 316.8,284.0 317.7,284.6 318.7,285.0 319.6,285.3 320.6,285.6 321.5,285.8 322.5,285.9 323.4,286.1 324.3,286.2 325.3,286.3 326.2,286.4 327.2,286.4 328.1,286.5 329.1,286.6 330.0,286.7 330.9,286.7 331.9,286.7 332.8,286.7 333.8,286.7 334.7,286.7 335.7,286.7 336.6,286.8 337.5,286.8 338.5,286.8 339.4,286.8 340.4,286.8 341.3,286.8 342.3,286.8 343.2,286.8 344.1,286.8 345.1,286.8 346.0,286.8 347.0,286.8 347.9,286.8 348.9,286.8 349.8,286.8" stroke="#111" stroke-width="1.7" fill="none" stroke-linejoin="round" stroke-linecap="round" />
<text x="283" y="187.8" font-size="5.6" text-anchor="start" font-weight="bold" font-family="Liberation Sans" fill="#222" textLength="23.7" lengthAdjust="spacingAndGlyphs" stroke="#222" stroke-width="0.22" >AGG CIP</text>
<text x="307.7" y="189.5" font-size="5.4" text-anchor="start" font-weight="bold" font-family="Liberation Sans" fill="#222" textLength="40.8" lengthAdjust="spacingAndGlyphs" stroke="#222" stroke-width="0.22" >Coordinated EC</text>
<text x="322.1" y="245.1" font-size="5.4" text-anchor="middle" font-weight="bold" font-family="Liberation Sans" fill="#222" textLength="20.2" lengthAdjust="spacingAndGlyphs" stroke="#222" stroke-width="0.22" >Free EC</text>
<text x="361" y="168.7" font-size="12.5" text-anchor="middle" font-weight="bold" font-family="Liberation Sans" fill="#111" >(f)</text>
<defs><radialGradient id="gC" cx="0.38" cy="0.35" r="0.7"><stop offset="0" stop-color="#b4b4b4"/><stop offset="1" stop-color="#6e6e6e"/></radialGradient><radialGradient id="gO" cx="0.38" cy="0.35" r="0.7"><stop offset="0" stop-color="#ff5a5a"/><stop offset="1" stop-color="#d40000"/></radialGradient><radialGradient id="gH" cx="0.38" cy="0.35" r="0.7"><stop offset="0" stop-color="#ffffff"/><stop offset="1" stop-color="#bdbdbd"/></radialGradient><radialGradient id="gK" cx="0.38" cy="0.35" r="0.7"><stop offset="0" stop-color="#b34cf0"/><stop offset="1" stop-color="#7410c0"/></radialGradient><radialGradient id="gS" cx="0.38" cy="0.35" r="0.7"><stop offset="0" stop-color="#7dff7d"/><stop offset="1" stop-color="#1ec81e"/></radialGradient><radialGradient id="gF" cx="0.38" cy="0.35" r="0.7"><stop offset="0" stop-color="#ffc04a"/><stop offset="1" stop-color="#e68a00"/></radialGradient><radialGradient id="gN" cx="0.38" cy="0.35" r="0.7"><stop offset="0" stop-color="#5a78ff"/><stop offset="1" stop-color="#1030d8"/></radialGradient></defs>
<path d="M391.4,170.3L388.8,175.0M391.4,170.3L393.2,173.8M388.8,175.0L393.2,173.8M398.5,169.5L402.0,172.8M393.2,173.8L402.0,172.8M393.2,173.8L393.9,181.3M402.0,172.8L406.4,179.4M393.9,181.3L402.0,183.8M393.9,181.3L397.5,189.5M406.4,179.4L402.0,183.8M402.0,183.8L404.5,190.8M402.0,183.8L397.5,189.5M402.0,183.8L404.5,191.3M404.5,190.8L397.5,189.5M397.5,189.5L391.4,192.4M397.5,189.5L404.5,191.3M391.4,192.4L392.8,198.6M391.4,192.4L395.5,199.5M392.8,198.6L395.5,199.5M392.8,198.6L385.7,203.3M392.8,198.6L393.2,205.2M392.8,198.6L398.6,203.3M395.5,199.5L393.2,205.2M395.5,199.5L398.6,203.3M385.7,203.3L393.2,205.2M385.7,203.3L387.0,211.2M393.2,205.2L398.6,203.3M393.2,205.2L387.0,211.2M393.2,205.2L395.1,212.8M387.0,211.2L395.1,212.8M387.0,211.2L390.9,218.7M395.1,212.8L399.5,214.3M395.1,212.8L390.9,218.7M390.9,218.7L392.0,226.4M390.9,218.7L390.5,223.0M392.0,226.4L388.0,230.0M392.0,226.4L390.5,223.0M421.0,175.7L425.7,176.2M425.7,176.2L425.7,180.7M425.7,180.7L421.8,187.8M421.8,187.8L423.3,190.3M421.8,187.8L430.4,189.8M421.8,187.8L419.4,193.3M423.3,190.3L430.4,189.8M423.3,190.3L419.4,193.3M423.3,190.3L422.2,198.8M423.3,190.3L428.5,197.2M430.4,189.8L428.5,197.2M419.4,193.3L415.5,198.8M419.4,193.3L422.2,198.8M415.5,198.8L422.2,198.8M422.2,198.8L428.5,197.2M428.5,197.2L434.3,202.8M434.3,202.8L439.0,207.8M434.3,202.8L430.4,209.7M434.3,202.8L434.3,211.0M440.6,202.4L439.0,207.8M439.0,207.8L445.3,211.0M439.0,207.8L430.4,209.7M439.0,207.8L434.3,211.0M439.0,207.8L439.0,216.0M446.9,206.3L445.3,211.0M445.3,211.0L439.0,216.0M430.4,209.7L434.3,211.0M430.4,209.7L424.9,215.7M430.4,209.7L432.0,215.7M434.3,211.0L432.0,215.7M434.3,211.0L439.0,216.0M424.9,215.7L432.0,215.7M432.0,215.7L439.0,216.0M473.5,176.3L470.7,179.9M473.5,176.3L476.2,184.6M470.7,179.9L476.2,184.6M470.7,179.9L474.2,187.5M476.2,184.6L474.2,187.5M476.2,184.6L482.5,187.0M476.2,184.6L479.3,191.4M474.2,187.5L482.5,187.0M474.2,187.5L479.3,191.4M482.5,187.0L479.3,191.4M482.5,187.0L484.8,190.1M479.3,191.4L484.8,190.1M479.3,191.4L475.4,197.7M480.9,197.2L475.4,197.7M487.2,182.0L492.7,181.5M492.7,181.5L492.4,186.2M492.7,181.5L497.4,179.9M492.7,181.5L499.0,177.6M492.4,186.2L497.4,179.9M497.4,179.9L499.0,177.6M497.4,179.9L502.1,177.2M499.0,177.6L502.1,177.2M502.1,177.2L506.8,177.9M514.7,189.2L515.4,193.9M515.4,193.9L518.6,198.6M515.4,193.9L510.7,199.4M515.4,193.9L506.8,197.2M518.6,198.6L522.5,195.4M510.7,199.4L506.0,200.2M510.7,199.4L506.8,197.2M510.7,199.4L502.9,204.1M506.0,200.2L500.5,198.3M506.0,200.2L506.8,197.2M506.0,200.2L499.4,204.1M506.0,200.2L502.9,204.1M506.0,200.2L507.6,208.8M500.5,198.3L506.8,197.2M500.5,198.3L495.8,204.9M500.5,198.3L499.4,204.1M500.5,198.3L502.9,204.1M506.8,197.2L502.9,204.1M495.8,204.9L499.4,204.1M495.8,204.9L502.9,204.1M495.8,204.9L498.1,211.2M499.4,204.1L502.9,204.1M499.4,204.1L507.6,208.8M499.4,204.1L498.1,211.2M502.9,204.1L507.6,208.8M502.9,204.1L498.1,211.2M507.6,208.8L505.2,215.1M498.1,211.2L505.2,215.1M498.1,211.2L495.8,216.7M498.1,211.2L494.9,216.3M505.2,215.1L510.7,214.3M505.2,215.1L495.8,216.7M505.2,215.1L510.0,219.8M505.2,215.1L505.2,223.7M510.7,214.3L510.0,219.8M495.8,216.7L497.4,221.4M495.8,216.7L496.9,222.0M510.0,219.8L515.4,221.9M510.0,219.8L505.2,223.7M510.0,219.8L504.3,225.1M497.4,221.4L505.2,223.7M497.4,221.4L494.9,216.3M497.4,221.4L492.2,226.2M497.4,221.4L504.3,225.1M505.2,223.7L504.3,225.1M505.2,223.7L496.9,222.0M494.9,216.3L496.9,222.0M492.2,226.2L483.5,225.4M492.2,226.2L496.9,222.0M483.5,225.4L482.0,220.7M483.5,225.4L480.4,230.1M504.3,225.1L496.9,222.0M489.0,238.3L492.2,241.1M492.2,241.1L495.0,237.5M492.2,241.1L499.6,246.1M492.2,241.1L487.5,246.3M499.6,246.1L504.2,246.3M499.6,246.1L495.9,254.4M487.5,246.3L489.6,253.3M495.9,254.4L489.6,253.3M489.6,253.3L485.7,259.6M485.7,259.6L480.5,264.8M404.5,241.3L406.4,246.0M406.4,246.0L401.4,247.8M406.4,246.0L403.8,253.8M401.4,247.8L403.8,253.8M401.4,247.8L398.6,255.4M403.8,253.8L398.6,255.4M403.8,253.8L409.6,256.5M403.8,253.8L399.0,262.0M403.8,253.8L402.0,259.0M398.6,255.4L399.0,262.0M398.6,255.4L402.0,259.0M398.6,255.4L397.5,264.5M388.5,260.1L390.4,265.1M399.0,262.0L402.0,259.0M399.0,262.0L390.4,265.1M399.0,262.0L397.5,264.5M399.0,262.0L403.0,268.6M390.4,265.1L397.5,264.5M390.4,265.1L392.8,271.1M397.5,264.5L392.8,271.1M397.5,264.5L403.0,268.6M397.5,264.5L399.8,273.8M392.8,271.1L399.8,273.8M392.8,271.1L389.6,275.3M403.0,268.6L408.5,269.0M403.0,268.6L399.8,273.8M399.8,273.8L402.4,279.8M402.4,279.8L396.4,284.3M392.6,283.4L393.8,287.1M392.6,283.4L396.4,284.3M393.8,287.1L399.4,292.9M393.8,287.1L396.4,284.3M399.4,292.9L396.4,284.3M399.4,292.9L393.4,298.7M385.1,297.5L392.6,302.4M385.1,297.5L393.4,298.7M392.6,302.4L396.8,305.9M392.6,302.4L393.4,298.7M396.8,305.9L393.4,298.7M428.0,259.6L434.4,258.2M428.0,259.6L434.1,260.9M425.0,276.9L424.3,279.4M425.0,276.9L427.1,282.9M425.0,276.9L434.1,275.1M424.3,279.4L427.1,282.9M424.3,279.4L421.0,286.3M424.3,279.4L422.4,286.5M427.1,282.9L421.0,286.3M427.1,282.9L434.1,282.1M427.1,282.9L433.3,285.6M427.1,282.9L422.4,286.5M427.1,282.9L430.2,291.5M427.1,282.9L429.6,291.1M421.0,286.3L415.0,283.9M421.0,286.3L422.4,286.5M421.0,286.3L425.5,293.1M415.0,283.9L411.9,287.8M415.0,283.9L413.5,280.5M415.0,283.9L422.4,286.5M434.1,282.1L438.8,280.9M434.1,282.1L434.1,275.1M434.1,282.1L433.3,285.6M438.8,280.9L443.5,283.7M438.8,280.9L434.1,275.1M438.8,280.9L433.3,285.6M433.3,270.8L434.1,275.1M433.3,285.6L430.2,291.5M433.3,285.6L429.6,291.1M422.4,286.5L430.2,291.5M422.4,286.5L425.5,293.1M422.4,286.5L429.6,291.1M430.2,291.5L425.5,293.1M425.5,293.1L427.1,298.6M425.5,293.1L419.8,293.4M425.5,293.1L429.6,291.1M443.2,247.6L445.1,252.3M445.1,252.3L449.8,253.1M445.1,252.3L439.6,253.8M445.1,252.3L441.7,258.5M439.6,253.8L441.7,258.5M439.6,253.8L434.4,258.2M439.6,253.8L434.1,260.9M441.7,258.5L444.3,263.3M441.7,258.5L434.4,258.2M441.7,258.5L434.1,260.9M434.4,258.2L428.6,259.3M434.4,258.2L434.1,260.9M428.6,259.3L434.1,260.9M457.4,258.5L462.1,262.5M469.9,258.2L476.8,255.1M469.9,258.2L469.9,267.2M469.9,258.2L462.1,262.5M469.9,258.2L474.2,261.7M476.8,255.1L474.2,261.7M465.5,269.5L469.9,267.2M465.5,269.5L470.2,268.8M465.5,269.5L462.1,262.5M469.9,267.2L465.5,269.9M469.9,267.2L470.2,268.8M469.9,267.2L462.1,262.5M469.9,267.2L474.2,261.7M480.5,264.8L474.2,261.7M465.5,269.9L470.2,268.8M465.5,269.9L462.1,262.5M470.2,268.8L474.2,261.7M458.5,280.6L464.3,287.2M458.5,280.6L462.4,288.4M474.2,279.8L471.0,286.0M474.2,279.8L478.9,283.7M464.3,287.2L471.0,286.0M464.3,287.2L468.7,291.5M464.3,287.2L462.4,288.4M464.3,287.2L467.0,286.8M471.0,286.0L468.7,291.5M471.0,286.0L475.7,290.0M471.0,286.0L478.9,283.7M471.0,286.0L475.0,294.7M471.0,286.0L462.4,288.4M471.0,286.0L467.0,286.8M468.7,291.5L475.7,290.0M468.7,291.5L475.0,294.7M468.7,291.5L465.5,297.0M468.7,291.5L462.4,288.4M468.7,291.5L467.0,286.8M475.7,290.0L478.9,283.7M475.7,290.0L475.0,294.7M475.7,290.0L478.9,297.0M475.7,290.0L467.0,286.8M475.7,290.0L478.3,297.5M475.0,294.7L478.9,297.0M475.0,294.7L478.3,297.5M465.5,297.0L462.4,288.4M478.9,297.0L485.8,295.9M462.4,288.4L467.0,286.8M512.7,257.0L511.1,263.5M502.7,263.9L511.1,263.5M519.5,265.4L511.1,263.5M511.1,272.2L512.4,277.7M511.1,272.2L511.1,263.5M511.1,272.2L508.9,279.5M501.4,282.4L506.9,286.8M501.4,282.4L508.9,279.5M501.4,282.4L493.4,284.3M501.4,282.4L507.0,287.3M512.4,277.7L514.5,286.3M512.4,277.7L508.9,279.5M514.5,286.3L506.9,286.8M514.5,286.3L508.9,279.5M514.5,286.3L507.0,287.3M506.9,286.8L508.9,279.5M506.9,286.8L502.9,292.9M508.9,279.5L507.0,287.3M487.8,283.3L493.4,284.3M494.9,279.0L493.4,284.3M493.4,284.3L496.4,292.3M496.4,292.3L502.9,292.9M502.9,292.9L507.0,287.3M502.9,292.9L505.4,300.5M505.4,300.5L512.5,300.9M512.5,300.9L514.5,306.5M485.8,295.9L489.6,293.4M485.8,295.9L478.3,297.5M462.5,197.0L462.8,199.6M462.5,197.0L470.7,198.3M462.5,197.0L465.7,203.9M462.8,199.6L470.7,198.3M462.8,199.6L458.9,207.7M462.8,199.6L465.7,203.9M462.8,199.6L470.7,203.5M470.7,198.3L475.4,197.7M470.7,198.3L465.7,203.9M470.7,198.3L470.7,203.5M475.4,197.7L470.7,203.5M458.9,207.7L465.7,203.9M470.7,208.2L476.2,210.5M470.7,208.2L465.7,203.9M470.7,208.2L470.7,203.5M476.2,210.5L470.7,203.5M465.7,203.9L470.7,203.5" stroke="#a0a0a0" stroke-width="1.6" fill="none"/>
<circle cx="391.4" cy="170.3" r="1.5" fill="url(#gH)"/>
<circle cx="388.8" cy="175.0" r="1.5" fill="url(#gH)"/>
<circle cx="404.9" cy="167.3" r="1.5" fill="url(#gH)"/>
<circle cx="398.5" cy="169.5" r="1.5" fill="url(#gH)"/>
<circle cx="400.6" cy="196.0" r="1.5" fill="url(#gH)"/>
<circle cx="381.8" cy="214.3" r="1.5" fill="url(#gH)"/>
<circle cx="388.0" cy="230.0" r="1.5" fill="url(#gH)"/>
<circle cx="398.3" cy="229.2" r="1.5" fill="url(#gH)"/>
<circle cx="390.5" cy="223.0" r="1.5" fill="url(#gH)"/>
<circle cx="421.0" cy="175.7" r="1.5" fill="url(#gH)"/>
<circle cx="425.7" cy="176.2" r="1.5" fill="url(#gH)"/>
<circle cx="433.0" cy="183.1" r="1.5" fill="url(#gH)"/>
<circle cx="440.6" cy="202.4" r="1.5" fill="url(#gH)"/>
<circle cx="446.9" cy="206.3" r="1.5" fill="url(#gH)"/>
<circle cx="451.1" cy="213.5" r="1.5" fill="url(#gH)"/>
<circle cx="468.8" cy="172.1" r="1.5" fill="url(#gH)"/>
<circle cx="478.5" cy="172.5" r="1.5" fill="url(#gH)"/>
<circle cx="480.9" cy="197.2" r="1.5" fill="url(#gH)"/>
<circle cx="484.8" cy="190.1" r="1.5" fill="url(#gH)"/>
<circle cx="487.2" cy="182.0" r="1.5" fill="url(#gH)"/>
<circle cx="502.1" cy="185.1" r="1.5" fill="url(#gH)"/>
<circle cx="506.8" cy="177.9" r="1.5" fill="url(#gH)"/>
<circle cx="514.7" cy="189.2" r="1.5" fill="url(#gH)"/>
<circle cx="518.6" cy="198.6" r="1.5" fill="url(#gH)"/>
<circle cx="522.5" cy="195.4" r="1.5" fill="url(#gH)"/>
<circle cx="510.7" cy="214.3" r="1.5" fill="url(#gH)"/>
<circle cx="515.4" cy="221.9" r="1.5" fill="url(#gH)"/>
<circle cx="482.0" cy="220.7" r="1.5" fill="url(#gH)"/>
<circle cx="480.4" cy="230.1" r="1.5" fill="url(#gH)"/>
<circle cx="489.0" cy="238.3" r="1.5" fill="url(#gH)"/>
<circle cx="495.0" cy="237.5" r="1.5" fill="url(#gH)"/>
<circle cx="504.2" cy="246.3" r="1.5" fill="url(#gH)"/>
<circle cx="404.5" cy="241.3" r="1.5" fill="url(#gH)"/>
<circle cx="388.5" cy="260.1" r="1.5" fill="url(#gH)"/>
<circle cx="402.0" cy="259.0" r="1.5" fill="url(#gH)"/>
<circle cx="389.6" cy="275.3" r="1.5" fill="url(#gH)"/>
<circle cx="388.9" cy="276.0" r="1.5" fill="url(#gH)"/>
<circle cx="411.9" cy="287.8" r="1.5" fill="url(#gH)"/>
<circle cx="413.5" cy="280.5" r="1.5" fill="url(#gH)"/>
<circle cx="443.5" cy="283.7" r="1.5" fill="url(#gH)"/>
<circle cx="433.3" cy="270.8" r="1.5" fill="url(#gH)"/>
<circle cx="427.1" cy="298.6" r="1.5" fill="url(#gH)"/>
<circle cx="419.8" cy="293.4" r="1.5" fill="url(#gH)"/>
<circle cx="443.2" cy="247.6" r="1.5" fill="url(#gH)"/>
<circle cx="449.8" cy="253.1" r="1.5" fill="url(#gH)"/>
<circle cx="444.3" cy="263.3" r="1.5" fill="url(#gH)"/>
<circle cx="487.8" cy="283.3" r="1.5" fill="url(#gH)"/>
<circle cx="494.9" cy="279.0" r="1.5" fill="url(#gH)"/>
<circle cx="516.8" cy="296.4" r="1.5" fill="url(#gH)"/>
<circle cx="514.5" cy="306.5" r="1.5" fill="url(#gH)"/>
<circle cx="489.6" cy="293.4" r="1.5" fill="url(#gH)"/>
<circle cx="488.1" cy="302.0" r="1.5" fill="url(#gH)"/>
<circle cx="393.2" cy="173.8" r="2.6" fill="url(#gC)"/>
<circle cx="402.0" cy="172.8" r="2.6" fill="url(#gC)"/>
<circle cx="393.9" cy="181.3" r="2.5" fill="url(#gO)"/>
<circle cx="406.4" cy="179.4" r="2.5" fill="url(#gO)"/>
<circle cx="402.0" cy="183.8" r="2.6" fill="url(#gC)"/>
<circle cx="404.5" cy="190.8" r="2.5" fill="url(#gO)"/>
<circle cx="397.5" cy="189.5" r="2.6" fill="url(#gC)"/>
<circle cx="391.4" cy="192.4" r="2.5" fill="url(#gO)"/>
<circle cx="404.5" cy="191.3" r="2.5" fill="url(#gO)"/>
<circle cx="392.8" cy="198.6" r="2.6" fill="url(#gC)"/>
<circle cx="395.5" cy="199.5" r="2.6" fill="url(#gC)"/>
<circle cx="385.7" cy="203.3" r="2.5" fill="url(#gO)"/>
<circle cx="393.2" cy="205.2" r="2.5" fill="url(#gO)"/>
<circle cx="398.6" cy="203.3" r="2.5" fill="url(#gO)"/>
<circle cx="387.0" cy="211.2" r="2.6" fill="url(#gC)"/>
<circle cx="395.1" cy="212.8" r="2.6" fill="url(#gC)"/>
<circle cx="399.5" cy="214.3" r="2.5" fill="url(#gO)"/>
<circle cx="390.9" cy="218.7" r="2.5" fill="url(#gO)"/>
<circle cx="392.0" cy="226.4" r="2.6" fill="url(#gC)"/>
<circle cx="425.7" cy="180.7" r="2.6" fill="url(#gC)"/>
<circle cx="421.8" cy="187.8" r="2.5" fill="url(#gO)"/>
<circle cx="423.3" cy="190.3" r="2.5" fill="url(#gO)"/>
<circle cx="430.4" cy="189.8" r="2.5" fill="url(#gO)"/>
<circle cx="419.4" cy="193.3" r="2.6" fill="url(#gC)"/>
<circle cx="415.5" cy="198.8" r="2.5" fill="url(#gO)"/>
<circle cx="422.2" cy="198.8" r="2.5" fill="url(#gO)"/>
<circle cx="428.5" cy="197.2" r="2.6" fill="url(#gC)"/>
<circle cx="434.3" cy="202.8" r="2.5" fill="url(#gO)"/>
<circle cx="439.0" cy="207.8" r="2.6" fill="url(#gC)"/>
<circle cx="445.3" cy="211.0" r="2.6" fill="url(#gC)"/>
<circle cx="430.4" cy="209.7" r="2.5" fill="url(#gO)"/>
<circle cx="434.3" cy="211.0" r="2.6" fill="url(#gC)"/>
<circle cx="424.9" cy="215.7" r="2.5" fill="url(#gO)"/>
<circle cx="432.0" cy="215.7" r="2.6" fill="url(#gC)"/>
<circle cx="439.0" cy="216.0" r="2.5" fill="url(#gO)"/>
<circle cx="473.5" cy="176.3" r="2.6" fill="url(#gC)"/>
<circle cx="470.7" cy="179.9" r="2.5" fill="url(#gO)"/>
<circle cx="476.2" cy="184.6" r="2.6" fill="url(#gC)"/>
<circle cx="474.2" cy="187.5" r="2.5" fill="url(#gO)"/>
<circle cx="482.5" cy="187.0" r="2.5" fill="url(#gO)"/>
<circle cx="479.3" cy="191.4" r="2.6" fill="url(#gC)"/>
<circle cx="492.7" cy="181.5" r="2.6" fill="url(#gC)"/>
<circle cx="492.4" cy="186.2" r="2.5" fill="url(#gO)"/>
<circle cx="497.4" cy="179.9" r="2.6" fill="url(#gC)"/>
<circle cx="499.0" cy="177.6" r="2.5" fill="url(#gO)"/>
<circle cx="502.1" cy="177.2" r="2.5" fill="url(#gO)"/>
<circle cx="515.4" cy="193.9" r="2.6" fill="url(#gC)"/>
<circle cx="510.7" cy="199.4" r="2.5" fill="url(#gO)"/>
<circle cx="506.0" cy="200.2" r="2.6" fill="url(#gC)"/>
<circle cx="500.5" cy="198.3" r="2.5" fill="url(#gO)"/>
<circle cx="506.8" cy="197.2" r="2.5" fill="url(#gO)"/>
<circle cx="495.8" cy="204.9" r="2.5" fill="url(#gO)"/>
<circle cx="499.4" cy="204.1" r="2.5" fill="url(#gO)"/>
<circle cx="502.9" cy="204.1" r="2.6" fill="url(#gC)"/>
<circle cx="507.6" cy="208.8" r="2.5" fill="url(#gO)"/>
<circle cx="498.1" cy="211.2" r="2.6" fill="url(#gC)"/>
<circle cx="505.2" cy="215.1" r="2.6" fill="url(#gC)"/>
<circle cx="495.8" cy="216.7" r="2.5" fill="url(#gO)"/>
<circle cx="510.0" cy="219.8" r="2.6" fill="url(#gC)"/>
<circle cx="497.4" cy="221.4" r="2.6" fill="url(#gC)"/>
<circle cx="505.2" cy="223.7" r="2.5" fill="url(#gO)"/>
<circle cx="494.9" cy="216.3" r="2.5" fill="url(#gO)"/>
<circle cx="492.2" cy="226.2" r="2.5" fill="url(#gO)"/>
<circle cx="483.5" cy="225.4" r="2.6" fill="url(#gC)"/>
<circle cx="504.3" cy="225.1" r="2.5" fill="url(#gO)"/>
<circle cx="496.9" cy="222.0" r="2.6" fill="url(#gC)"/>
<circle cx="492.2" cy="241.1" r="2.6" fill="url(#gC)"/>
<circle cx="499.6" cy="246.1" r="2.6" fill="url(#gC)"/>
<circle cx="487.5" cy="246.3" r="2.5" fill="url(#gO)"/>
<circle cx="495.9" cy="254.4" r="2.5" fill="url(#gO)"/>
<circle cx="489.6" cy="253.3" r="2.6" fill="url(#gC)"/>
<circle cx="485.7" cy="259.6" r="2.5" fill="url(#gO)"/>
<circle cx="406.4" cy="246.0" r="2.6" fill="url(#gC)"/>
<circle cx="401.4" cy="247.8" r="2.5" fill="url(#gO)"/>
<circle cx="403.8" cy="253.8" r="2.6" fill="url(#gC)"/>
<circle cx="398.6" cy="255.4" r="2.5" fill="url(#gO)"/>
<circle cx="409.6" cy="256.5" r="2.5" fill="url(#gO)"/>
<circle cx="399.0" cy="262.0" r="2.6" fill="url(#gC)"/>
<circle cx="390.4" cy="265.1" r="2.6" fill="url(#gC)"/>
<circle cx="397.5" cy="264.5" r="2.5" fill="url(#gO)"/>
<circle cx="392.8" cy="271.1" r="2.6" fill="url(#gC)"/>
<circle cx="403.0" cy="268.6" r="2.6" fill="url(#gC)"/>
<circle cx="408.5" cy="269.0" r="2.5" fill="url(#gO)"/>
<circle cx="399.8" cy="273.8" r="2.5" fill="url(#gO)"/>
<circle cx="402.4" cy="279.8" r="2.5" fill="url(#gO)"/>
<circle cx="392.6" cy="283.4" r="2.3" fill="url(#gF)"/>
<circle cx="393.8" cy="287.1" r="2.5" fill="url(#gO)"/>
<circle cx="399.4" cy="292.9" r="2.2" fill="url(#gN)"/>
<circle cx="385.1" cy="297.5" r="2.5" fill="url(#gO)"/>
<circle cx="392.6" cy="302.4" r="2.3" fill="url(#gF)"/>
<circle cx="396.8" cy="305.9" r="2.5" fill="url(#gO)"/>
<circle cx="428.0" cy="259.6" r="2.5" fill="url(#gO)"/>
<circle cx="425.0" cy="276.9" r="2.5" fill="url(#gO)"/>
<circle cx="424.3" cy="279.4" r="2.5" fill="url(#gO)"/>
<circle cx="427.1" cy="282.9" r="2.6" fill="url(#gC)"/>
<circle cx="421.0" cy="286.3" r="2.5" fill="url(#gO)"/>
<circle cx="415.0" cy="283.9" r="2.6" fill="url(#gC)"/>
<circle cx="434.1" cy="282.1" r="2.5" fill="url(#gO)"/>
<circle cx="438.8" cy="280.9" r="2.6" fill="url(#gC)"/>
<circle cx="434.1" cy="275.1" r="2.6" fill="url(#gC)"/>
<circle cx="433.3" cy="285.6" r="2.5" fill="url(#gO)"/>
<circle cx="422.4" cy="286.5" r="2.5" fill="url(#gO)"/>
<circle cx="430.2" cy="291.5" r="2.5" fill="url(#gO)"/>
<circle cx="425.5" cy="293.1" r="2.6" fill="url(#gC)"/>
<circle cx="429.6" cy="291.1" r="2.5" fill="url(#gO)"/>
<circle cx="445.1" cy="252.3" r="2.6" fill="url(#gC)"/>
<circle cx="439.6" cy="253.8" r="2.5" fill="url(#gO)"/>
<circle cx="441.7" cy="258.5" r="2.6" fill="url(#gC)"/>
<circle cx="434.4" cy="258.2" r="2.6" fill="url(#gC)"/>
<circle cx="428.6" cy="259.3" r="2.5" fill="url(#gO)"/>
<circle cx="434.1" cy="260.9" r="2.5" fill="url(#gO)"/>
<circle cx="457.4" cy="258.5" r="2.5" fill="url(#gO)"/>
<circle cx="469.9" cy="258.2" r="2.2" fill="url(#gN)"/>
<circle cx="476.8" cy="255.1" r="2.5" fill="url(#gO)"/>
<circle cx="465.5" cy="269.5" r="2.5" fill="url(#gO)"/>
<circle cx="469.9" cy="267.2" r="2.5" fill="url(#gO)"/>
<circle cx="480.5" cy="264.8" r="2.3" fill="url(#gF)"/>
<circle cx="465.5" cy="269.9" r="2.5" fill="url(#gO)"/>
<circle cx="470.2" cy="268.8" r="2.5" fill="url(#gO)"/>
<circle cx="458.5" cy="280.6" r="2.3" fill="url(#gF)"/>
<circle cx="474.2" cy="279.8" r="2.5" fill="url(#gO)"/>
<circle cx="464.3" cy="287.2" r="2.5" fill="url(#gO)"/>
<circle cx="471.0" cy="286.0" r="2.2" fill="url(#gN)"/>
<circle cx="468.7" cy="291.5" r="2.5" fill="url(#gO)"/>
<circle cx="475.7" cy="290.0" r="2.6" fill="url(#gC)"/>
<circle cx="478.9" cy="283.7" r="2.5" fill="url(#gO)"/>
<circle cx="475.0" cy="294.7" r="2.3" fill="url(#gF)"/>
<circle cx="465.5" cy="297.0" r="2.5" fill="url(#gO)"/>
<circle cx="478.9" cy="297.0" r="2.5" fill="url(#gO)"/>
<circle cx="512.7" cy="257.0" r="2.5" fill="url(#gO)"/>
<circle cx="502.7" cy="263.9" r="2.5" fill="url(#gO)"/>
<circle cx="519.5" cy="265.4" r="2.3" fill="url(#gF)"/>
<circle cx="511.1" cy="272.2" r="2.2" fill="url(#gN)"/>
<circle cx="501.4" cy="282.4" r="2.5" fill="url(#gO)"/>
<circle cx="512.4" cy="277.7" r="2.5" fill="url(#gO)"/>
<circle cx="514.5" cy="286.3" r="2.3" fill="url(#gF)"/>
<circle cx="506.9" cy="286.8" r="2.5" fill="url(#gO)"/>
<circle cx="493.4" cy="284.3" r="2.6" fill="url(#gC)"/>
<circle cx="496.4" cy="292.3" r="2.5" fill="url(#gO)"/>
<circle cx="502.9" cy="292.9" r="2.6" fill="url(#gC)"/>
<circle cx="507.0" cy="287.3" r="2.5" fill="url(#gO)"/>
<circle cx="505.4" cy="300.5" r="2.5" fill="url(#gO)"/>
<circle cx="512.5" cy="300.9" r="2.6" fill="url(#gC)"/>
<circle cx="485.8" cy="295.9" r="2.6" fill="url(#gC)"/>
<circle cx="478.3" cy="297.5" r="2.5" fill="url(#gO)"/>
<circle cx="462.5" cy="197.0" r="2.3" fill="url(#gF)"/>
<circle cx="462.8" cy="199.6" r="2.3" fill="url(#gF)"/>
<circle cx="470.7" cy="198.3" r="2.2" fill="url(#gN)"/>
<circle cx="475.4" cy="197.7" r="2.5" fill="url(#gO)"/>
<circle cx="458.9" cy="207.7" r="2.5" fill="url(#gO)"/>
<circle cx="470.7" cy="208.2" r="2.5" fill="url(#gO)"/>
<circle cx="476.2" cy="210.5" r="2.5" fill="url(#gO)"/>
<circle cx="411.1" cy="208.0" r="4.1" fill="url(#gK)"/>
<circle cx="487.7" cy="200.3" r="4.2" fill="url(#gK)"/>
<circle cx="417.4" cy="270.2" r="4.0" fill="url(#gK)"/>
<circle cx="396.4" cy="284.3" r="3.0" fill="url(#gS)"/>
<circle cx="393.4" cy="298.7" r="3.0" fill="url(#gS)"/>
<circle cx="462.1" cy="262.5" r="3.2" fill="url(#gS)"/>
<circle cx="474.2" cy="261.7" r="3.2" fill="url(#gS)"/>
<circle cx="462.4" cy="288.4" r="3.4" fill="url(#gS)"/>
<circle cx="467.0" cy="286.8" r="3.0" fill="url(#gS)"/>
<circle cx="485.3" cy="272.0" r="4.2" fill="url(#gK)"/>
<circle cx="511.1" cy="263.5" r="3.2" fill="url(#gS)"/>
<circle cx="508.9" cy="279.5" r="3.2" fill="url(#gS)"/>
<circle cx="465.7" cy="203.9" r="3.1" fill="url(#gS)"/>
<circle cx="470.7" cy="203.5" r="3.1" fill="url(#gS)"/>
<text x="405.8" y="174.3" font-size="5.4" text-anchor="start" font-weight="bold" font-family="Liberation Sans" fill="#222" stroke="#222" stroke-width="0.22" >EC</text>
<text x="437.3" y="196.5" font-size="5.4" text-anchor="middle" font-weight="bold" font-family="Liberation Sans" fill="#222" stroke="#222" stroke-width="0.22" >DMC</text>
<text x="409.4" y="217.3" font-size="5.4" text-anchor="middle" font-weight="bold" font-family="Liberation Sans" fill="#222" stroke="#222" stroke-width="0.22" >K<tspan dy="-2" font-size="3.5">+</tspan><tspan dy="2"></tspan></text>
<text x="466" y="216.2" font-size="5.4" text-anchor="middle" font-weight="bold" font-family="Liberation Sans" fill="#222" stroke="#222" stroke-width="0.22" >FSI<tspan dy="-2" font-size="3.5">−</tspan><tspan dy="2"></tspan></text>
<text x="450.5" y="234.2" font-size="5.4" text-anchor="middle" font-weight="bold" font-family="Liberation Sans" fill="#222" stroke="#222" stroke-width="0.22" >0.8m</text>
<text x="414.7" y="252.7" font-size="5.4" text-anchor="middle" font-weight="bold" font-family="Liberation Sans" fill="#222" stroke="#222" stroke-width="0.22" >DMC</text>
<text x="450.8" y="251.1" font-size="5.4" text-anchor="middle" font-weight="bold" font-family="Liberation Sans" fill="#222" stroke="#222" stroke-width="0.22" >EC</text>
<text x="424.9" y="271.0" font-size="5.4" text-anchor="middle" font-weight="bold" font-family="Liberation Sans" fill="#222" stroke="#222" stroke-width="0.22" >K<tspan dy="-2" font-size="3.5">+</tspan><tspan dy="2"></tspan></text>
<text x="403.2" y="301.4" font-size="5.4" text-anchor="middle" font-weight="bold" font-family="Liberation Sans" fill="#222" stroke="#222" stroke-width="0.22" >FSI<tspan dy="-2" font-size="3.5">−</tspan><tspan dy="2"></tspan></text>
<text x="447.5" y="306.9" font-size="5.4" text-anchor="middle" font-weight="bold" font-family="Liberation Sans" fill="#222" stroke="#222" stroke-width="0.22" >4.0m</text>
</svg>
</body></html>
